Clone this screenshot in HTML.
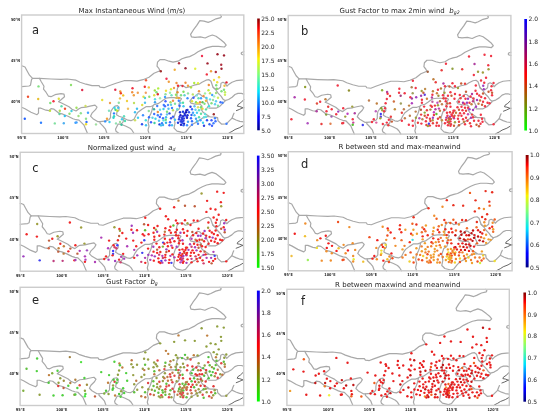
<!DOCTYPE html><html><head><meta charset="utf-8"><style>html,body{margin:0;padding:0;background:#fff;width:550px;height:420px;overflow:hidden}svg{display:block;filter:blur(0.55px)}text{font-family:"DejaVu Sans","Liberation Sans",sans-serif;fill:#262626}</style></head><body>
<svg width="550" height="420" viewBox="0 0 550 420">
<defs>
<linearGradient id="g_jet" x1="0" y1="1" x2="0" y2="0"><stop offset="0" stop-color="#000080"/><stop offset="0.11" stop-color="#0000ff"/><stop offset="0.125" stop-color="#0000ff"/><stop offset="0.34" stop-color="#00ddff"/><stop offset="0.35" stop-color="#00e5f7"/><stop offset="0.5" stop-color="#7dff7a"/><stop offset="0.64" stop-color="#f7f400"/><stop offset="0.66" stop-color="#ffdb00"/><stop offset="0.89" stop-color="#ff1e00"/><stop offset="0.91" stop-color="#ff0000"/><stop offset="1" stop-color="#800000"/></linearGradient>
<linearGradient id="g_grb" x1="0" y1="1" x2="0" y2="0"><stop offset="0" stop-color="#00ff00"/><stop offset="0.5" stop-color="#ff0000"/><stop offset="1" stop-color="#0000ff"/></linearGradient>
</defs>
<rect width="550" height="420" fill="#fff"/>
<g fill="none" stroke-linejoin="round" stroke-linecap="round">
<polyline points="21.6,65.8 22.5,66 25,67 27,70.7 29.5,75.2 32.5,78.4 39.5,78.4 51,79 61,79.4 67,79 76,80.2 80,82.2 86,84.2 92,85.7 99,85.7 100,87.2 104,87.7 109,85.7 116,83.2 124,80.7 131,80.7 137,81.2 143,79.7 149,77.2 154,73.2 160,70.7 159,68.7 157,66.2 157.5,62.2 160,59.7 165,59.7 169,61.2 173,62.2 178,61.2 182,58.7 186,57.4 189.6,56.6 194.4,54.2 198,51.8 202.8,49.4 207,47.6 212.4,46.4 218.4,46.4 224.4,47 226.2,45.2 224.4,42.8 220.8,39.8 216,36.2 212.4,35 208.8,36.2 205.2,38 200.4,36.8 195,37.4 191.4,36.8 190.6,34.4 193.2,30.2 196.8,25.4 199.8,20.6 204,21.2 208.2,22.4 211.2,21.2 216,18.8 220.8,17.6 221.4,16.4 220.2,15" stroke="#a8a8a8" stroke-width="1.2"/>
<polyline points="243.8,51.7 241.5,52.5 241.2,53.7 242,54.5 243.8,54.8" stroke="#a8a8a8" stroke-width="1.2"/>
<polyline points="32.5,78.4 31.5,79.7 30.5,85.2 29,86 21.6,86.7" stroke="#a8a8a8" stroke-width="1.2"/>
<polyline points="39.5,78.4 41,81.2 44,86.2 43.5,89.2 46,92.2 48.5,96.2 51,96.7 55,94.7 61,93.7 64,94.2 64.5,96.7 61,99.7 58.5,101.7 61,102.7 65,104.7 69,106.7 72,109.2 76,111 79,108.7 81,107.7 86,107.2 90,106.2 95,105.2 97,107.2 95.5,109.7 92,113.2 90.5,116.2 93,118.7 98,121.7 100,121.7 105,121.2 109,119.7 110.5,117.7 110.5,114.2 111,111.2 113,108.2 115,106.2 117.5,105.7 119,107.2 119,110.2 117,112.2 116.5,114.7 119,116.2 122,117.2 125,118.7 128,120.2 131,120.7 134,119.2 136,115.2 138,112.2 142,109.2 146,106.7 150,106.7 153,105.7 154,104.7 158,103.7 161,101.7 163,100.2 166,98.2 170,97.7 174,97.7 177,98.2 177,95.2 177,91.2 177.5,88.2 179,86.2 181,85.2 184,86.2 186,87.7 190,86.7 194,85.2 199,84.2 202,82.2 206,80.2 209,79.7 211,81.2 212,84.2 213,87.2 214.5,88.7 218,89.2 220.5,87.2 221,83.2 223,82.2 225,83.2 227,86.2 229,84.2 232,82.2 236,80.7 241,80.2 243.8,80" stroke="#a8a8a8" stroke-width="1.2"/>
<polyline points="177,98.2 180,97.7 181.5,98.7 180,101.2 179,104.2 180,106.2 179,109.2 176,111.2 175,114.2 174,117.2 175,123.2 174,128.2 177,131.2 183,132.7 186,131.7 189.3,127.4 192.5,124.2 197,121.9 200,119.7 203.5,117.6 207.8,116.5 211,117 214.4,117 217.6,117.6 218,120.7 221.7,124.2 226.4,123.8 229.3,120.9 232.1,118.1 236,120 239.8,121.4 243.8,121.9" stroke="#a8a8a8" stroke-width="1.2"/>
<polyline points="232.1,118.1 233.1,115.2 234,113.2" stroke="#a8a8a8" stroke-width="1.2"/>
<polyline points="190,101.2 192,98.2 195,96.2 198,93.7 200,94.2 202,96.2 205,97.2 207,99.2 207,101.2 209,105.2 207,108.2" stroke="#a8a8a8" stroke-width="1.2"/>
<polyline points="190,101.2 191,103.2 195,104.2 200,104.2 202,106.2 201,109.2 203,112.2 206,114.2 209,116.2" stroke="#a8a8a8" stroke-width="1.2"/>
<polyline points="213,87.2 216,90.2 218,93.2 221,96.2 223,99.2 225,100.6 228.6,99.5 232.1,97.3 235,94.5 237.9,93.4 241.4,93.4 243.8,94.1" stroke="#a8a8a8" stroke-width="1.2"/>
<polyline points="225,101.2 223,103.2 220,106.2 216,108.2 212,108.2 209,108.2" stroke="#a8a8a8" stroke-width="1.2"/>
<polyline points="21.6,107.2 25,108.7 31,112.2 37,114.7 38.5,113.2 38.5,108.2 41,108.2 46,110.2 49,110.7 51,108.7 54,109.2 59,113.2 63,114.2 68,116.2 73,118.7 76,119.7 79,120.2 82,123.2 84,125.2 87,132.2 87.5,133.5" stroke="#a8a8a8" stroke-width="1.2"/>
<polyline points="100,121.7 100,123.2 103,126.2 105.5,129.2 107,133.5" stroke="#a8a8a8" stroke-width="1.2"/>
<polyline points="124,118.2 123,122.2 121,124.2 118,124.2 117,126.2 115.5,129.2 116,131.2 119,133.5" stroke="#a8a8a8" stroke-width="1.2"/>
<polyline points="121,124.2 126,126.2 130,128.2 132,130.2 134,133.5" stroke="#a8a8a8" stroke-width="1.2"/>
<polyline points="153,105.7 152,110.2 151,113.2 149,117.2 148,122.2 149,126.2 148,130.2 149,133.5" stroke="#a8a8a8" stroke-width="1.2"/>
<polyline points="243.8,99.7 240.7,102.8 237.9,104.7 237.4,106.2 239.8,106.6 242.6,107.6 243.8,107.8" stroke="#555" stroke-width="0.9"/>
<polyline points="236.4,110.6 239.3,109.5 242.1,108.1 243.8,107.7" stroke="#555" stroke-width="0.9"/>
<polyline points="243.8,125.2 239.8,127.6 235,129.5 232.1,131.4 229.3,132.8 228.3,133.5" stroke="#555" stroke-width="0.9"/>
</g>
<g>
<circle cx="38.5" cy="86.4" r="1.2" fill="#80e080"/>
<circle cx="71" cy="85" r="1.2" fill="#90e070"/>
<circle cx="28" cy="96.7" r="1.2" fill="#f05030"/>
<circle cx="38.2" cy="99" r="1.2" fill="#e8c030"/>
<circle cx="58.8" cy="98.7" r="1.2" fill="#e0e040"/>
<circle cx="53.5" cy="101.2" r="1.2" fill="#f03040"/>
<circle cx="50.3" cy="103" r="1.2" fill="#80e080"/>
<circle cx="61.5" cy="106.2" r="1.2" fill="#60e0b0"/>
<circle cx="65" cy="108.7" r="1.2" fill="#f05030"/>
<circle cx="50" cy="110.7" r="1.2" fill="#c0e040"/>
<circle cx="59.8" cy="110.7" r="1.2" fill="#b0e050"/>
<circle cx="71.5" cy="111" r="1.2" fill="#40d0e0"/>
<circle cx="59.5" cy="114" r="1.2" fill="#60d0a0"/>
<circle cx="69.5" cy="113.7" r="1.2" fill="#90e070"/>
<circle cx="64.8" cy="116" r="1.2" fill="#30c0f0"/>
<circle cx="24.8" cy="118.7" r="1.2" fill="#2060ff"/>
<circle cx="41" cy="122.7" r="1.2" fill="#3080ff"/>
<circle cx="54.8" cy="123.4" r="1.2" fill="#80e0a0"/>
<circle cx="63.8" cy="123.2" r="1.2" fill="#50b0f0"/>
<circle cx="75.5" cy="122.7" r="1.2" fill="#40a0ff"/>
<circle cx="82.2" cy="90" r="1.2" fill="#e03050"/>
<circle cx="115.3" cy="89.7" r="1.2" fill="#e03050"/>
<circle cx="120.3" cy="91.4" r="1.2" fill="#f09030"/>
<circle cx="120.8" cy="93.2" r="1.2" fill="#f04020"/>
<circle cx="123.2" cy="95.4" r="1.2" fill="#f0c020"/>
<circle cx="102.2" cy="100" r="1.2" fill="#e8e040"/>
<circle cx="120" cy="98.4" r="1.2" fill="#f0c050"/>
<circle cx="127" cy="101" r="1.2" fill="#f0d040"/>
<circle cx="110" cy="103" r="1.2" fill="#f0a050"/>
<circle cx="118.8" cy="102.7" r="1.2" fill="#90e0a0"/>
<circle cx="85.5" cy="106" r="1.2" fill="#d0e060"/>
<circle cx="76.5" cy="107.7" r="1.2" fill="#a0e060"/>
<circle cx="128" cy="108.7" r="1.2" fill="#f0c060"/>
<circle cx="114.5" cy="107.7" r="1.2" fill="#40d0f0"/>
<circle cx="118.2" cy="107.7" r="1.2" fill="#40c0f0"/>
<circle cx="115.5" cy="109.7" r="1.2" fill="#40e080"/>
<circle cx="117.3" cy="110.7" r="1.2" fill="#c0e030"/>
<circle cx="109" cy="110.7" r="1.2" fill="#80e0c0"/>
<circle cx="88" cy="112.7" r="1.2" fill="#40a0ff"/>
<circle cx="80.8" cy="113.2" r="1.2" fill="#90e090"/>
<circle cx="114" cy="113.4" r="1.2" fill="#3080ff"/>
<circle cx="114" cy="116.2" r="1.2" fill="#30e0c0"/>
<circle cx="113.5" cy="117.7" r="1.2" fill="#30d0d0"/>
<circle cx="78.5" cy="116" r="1.2" fill="#a0e080"/>
<circle cx="124" cy="116.2" r="1.2" fill="#60e0c0"/>
<circle cx="86" cy="118.7" r="1.2" fill="#90e090"/>
<circle cx="122" cy="119.2" r="1.2" fill="#40d0f0"/>
<circle cx="107" cy="118.7" r="1.2" fill="#f0a040"/>
<circle cx="125" cy="121" r="1.2" fill="#50e0b0"/>
<circle cx="86.5" cy="122" r="1.2" fill="#3070ff"/>
<circle cx="76.5" cy="122.4" r="1.2" fill="#40a0ff"/>
<circle cx="105.2" cy="121.4" r="1.2" fill="#3090ff"/>
<circle cx="109.5" cy="122" r="1.2" fill="#40d0f0"/>
<circle cx="120" cy="122" r="1.2" fill="#a0e0a0"/>
<circle cx="86" cy="124.2" r="1.2" fill="#f0e030"/>
<circle cx="96" cy="124.4" r="1.2" fill="#a0e0a0"/>
<circle cx="116" cy="123.4" r="1.2" fill="#90e0b0"/>
<circle cx="121.5" cy="124.7" r="1.2" fill="#40c0a0"/>
<circle cx="146" cy="80.2" r="1.2" fill="#f06040"/>
<circle cx="160.8" cy="71.2" r="1.2" fill="#a03030"/>
<circle cx="179" cy="63.2" r="1.2" fill="#b03040"/>
<circle cx="185.5" cy="68.2" r="1.2" fill="#a03040"/>
<circle cx="174.7" cy="69.7" r="1.2" fill="#f0b040"/>
<circle cx="166.5" cy="78.7" r="1.2" fill="#f03050"/>
<circle cx="168.8" cy="81.7" r="1.2" fill="#f0a040"/>
<circle cx="176.5" cy="83" r="1.2" fill="#f09040"/>
<circle cx="178" cy="85.7" r="1.2" fill="#f03030"/>
<circle cx="182.5" cy="86" r="1.2" fill="#e03040"/>
<circle cx="185.5" cy="82.7" r="1.2" fill="#f09040"/>
<circle cx="144.8" cy="86.7" r="1.2" fill="#f03030"/>
<circle cx="148.8" cy="87.4" r="1.2" fill="#f0c040"/>
<circle cx="132.5" cy="88.2" r="1.2" fill="#f03040"/>
<circle cx="158.2" cy="88.4" r="1.2" fill="#b0f040"/>
<circle cx="154.8" cy="90.4" r="1.2" fill="#a0e040"/>
<circle cx="166" cy="90.7" r="1.2" fill="#f0e040"/>
<circle cx="171" cy="89.2" r="1.2" fill="#e0f040"/>
<circle cx="174" cy="88" r="1.2" fill="#f0a050"/>
<circle cx="132.2" cy="92.2" r="1.2" fill="#f09040"/>
<circle cx="137.8" cy="92.7" r="1.2" fill="#f0a050"/>
<circle cx="145.8" cy="92.7" r="1.2" fill="#f0a060"/>
<circle cx="133.8" cy="95.2" r="1.2" fill="#f0a040"/>
<circle cx="156.5" cy="92.2" r="1.2" fill="#80e080"/>
<circle cx="157.8" cy="94.2" r="1.2" fill="#e03030"/>
<circle cx="154.2" cy="95.2" r="1.2" fill="#e0e040"/>
<circle cx="170" cy="92.7" r="1.2" fill="#a0f0a0"/>
<circle cx="177.5" cy="92.2" r="1.2" fill="#e09030"/>
<circle cx="183.5" cy="91.7" r="1.2" fill="#80e060"/>
<circle cx="165.5" cy="94.2" r="1.2" fill="#90e0a0"/>
<circle cx="171.5" cy="95.2" r="1.2" fill="#70e0c0"/>
<circle cx="176" cy="94.7" r="1.2" fill="#90e060"/>
<circle cx="181" cy="95.2" r="1.2" fill="#80e080"/>
<circle cx="184.5" cy="95.2" r="1.2" fill="#60d0d0"/>
<circle cx="143.5" cy="96.7" r="1.2" fill="#e0e040"/>
<circle cx="145" cy="98" r="1.2" fill="#50d0d0"/>
<circle cx="149.3" cy="96.7" r="1.2" fill="#90e070"/>
<circle cx="155" cy="99.2" r="1.2" fill="#60e0e0"/>
<circle cx="160" cy="98.2" r="1.2" fill="#a0f0b0"/>
<circle cx="165" cy="97" r="1.2" fill="#40a0ff"/>
<circle cx="176.5" cy="97.7" r="1.2" fill="#e0c040"/>
<circle cx="178.8" cy="98" r="1.2" fill="#f0a040"/>
<circle cx="173" cy="100.7" r="1.2" fill="#f09050"/>
<circle cx="178.8" cy="100.7" r="1.2" fill="#4080ff"/>
<circle cx="134" cy="103" r="1.2" fill="#c0e060"/>
<circle cx="145" cy="102.7" r="1.2" fill="#50c0f0"/>
<circle cx="155" cy="102.2" r="1.2" fill="#40a0f0"/>
<circle cx="165.5" cy="101.2" r="1.2" fill="#4060ff"/>
<circle cx="170.5" cy="102.2" r="1.2" fill="#a0e060"/>
<circle cx="175" cy="103.7" r="1.2" fill="#80e0a0"/>
<circle cx="180.5" cy="103" r="1.2" fill="#60d0f0"/>
<circle cx="183" cy="102.7" r="1.2" fill="#50e0a0"/>
<circle cx="142.2" cy="105" r="1.2" fill="#e0e040"/>
<circle cx="157.2" cy="106" r="1.2" fill="#4080ff"/>
<circle cx="163.8" cy="105" r="1.2" fill="#4080ff"/>
<circle cx="165" cy="106.2" r="1.2" fill="#4070ff"/>
<circle cx="168" cy="105" r="1.2" fill="#5090ff"/>
<circle cx="171" cy="104.7" r="1.2" fill="#60d0e0"/>
<circle cx="179.5" cy="105.7" r="1.2" fill="#3060ff"/>
<circle cx="183.5" cy="106.2" r="1.2" fill="#40c0f0"/>
<circle cx="137" cy="108.7" r="1.2" fill="#40c0f0"/>
<circle cx="154" cy="109.2" r="1.2" fill="#40b0a0"/>
<circle cx="160" cy="109.7" r="1.2" fill="#60e0f0"/>
<circle cx="163.5" cy="109" r="1.2" fill="#40d0e0"/>
<circle cx="168.5" cy="108.7" r="1.2" fill="#50c0f0"/>
<circle cx="172" cy="108" r="1.2" fill="#4080ff"/>
<circle cx="173" cy="110.2" r="1.2" fill="#c0e060"/>
<circle cx="177.2" cy="109.2" r="1.2" fill="#60e0e0"/>
<circle cx="135" cy="112.2" r="1.2" fill="#40c0f0"/>
<circle cx="148.8" cy="111" r="1.2" fill="#90e0a0"/>
<circle cx="157.8" cy="112" r="1.2" fill="#f09040"/>
<circle cx="154.2" cy="114" r="1.2" fill="#4070ff"/>
<circle cx="161" cy="114.4" r="1.2" fill="#4080ff"/>
<circle cx="167" cy="111.7" r="1.2" fill="#80e080"/>
<circle cx="169.5" cy="113.4" r="1.2" fill="#3050e0"/>
<circle cx="167" cy="114.4" r="1.2" fill="#60c0f0"/>
<circle cx="143" cy="115.2" r="1.2" fill="#4090ff"/>
<circle cx="157.8" cy="115.2" r="1.2" fill="#4080ff"/>
<circle cx="180" cy="112.2" r="1.2" fill="#2030d0"/>
<circle cx="183" cy="111.7" r="1.2" fill="#2040e0"/>
<circle cx="138" cy="117.7" r="1.2" fill="#40d0f0"/>
<circle cx="149" cy="117.2" r="1.2" fill="#3070ff"/>
<circle cx="152.5" cy="117.7" r="1.2" fill="#60d0e0"/>
<circle cx="155.5" cy="118.7" r="1.2" fill="#40d0f0"/>
<circle cx="159.8" cy="117" r="1.2" fill="#4060ff"/>
<circle cx="163" cy="118.2" r="1.2" fill="#4070ff"/>
<circle cx="166" cy="117.2" r="1.2" fill="#40c0f0"/>
<circle cx="171" cy="118.2" r="1.2" fill="#4050f0"/>
<circle cx="173" cy="116.7" r="1.2" fill="#4060f0"/>
<circle cx="180.5" cy="115.2" r="1.2" fill="#2020c0"/>
<circle cx="183" cy="116.2" r="1.2" fill="#2030d0"/>
<circle cx="185" cy="115.2" r="1.2" fill="#2030e0"/>
<circle cx="182.5" cy="118.7" r="1.2" fill="#2020c0"/>
<circle cx="179" cy="119.2" r="1.2" fill="#3040e0"/>
<circle cx="135" cy="120.2" r="1.2" fill="#d0e060"/>
<circle cx="145.8" cy="120.2" r="1.2" fill="#40e0e0"/>
<circle cx="159" cy="120.7" r="1.2" fill="#50c0f0"/>
<circle cx="163.5" cy="120.4" r="1.2" fill="#60e0e0"/>
<circle cx="165.8" cy="119.7" r="1.2" fill="#60e080"/>
<circle cx="175" cy="119.7" r="1.2" fill="#40c0f0"/>
<circle cx="151" cy="122.2" r="1.2" fill="#4060ff"/>
<circle cx="154.5" cy="123" r="1.2" fill="#40d0a0"/>
<circle cx="162" cy="123.2" r="1.2" fill="#3080ff"/>
<circle cx="166" cy="122.7" r="1.2" fill="#30b0e0"/>
<circle cx="170" cy="122.2" r="1.2" fill="#4070ff"/>
<circle cx="178" cy="122.7" r="1.2" fill="#2040e0"/>
<circle cx="182" cy="121.7" r="1.2" fill="#2020c0"/>
<circle cx="142" cy="124.2" r="1.2" fill="#3050f0"/>
<circle cx="146" cy="125.2" r="1.2" fill="#40c0f0"/>
<circle cx="159.5" cy="124.4" r="1.2" fill="#2040e0"/>
<circle cx="163" cy="125" r="1.2" fill="#40b0f0"/>
<circle cx="181" cy="124.7" r="1.2" fill="#2020c0"/>
<circle cx="184" cy="123.7" r="1.2" fill="#2020c0"/>
<circle cx="169.5" cy="125.2" r="1.2" fill="#4060ff"/>
<circle cx="172" cy="125.2" r="1.2" fill="#40c0f0"/>
<circle cx="183.5" cy="125.2" r="1.2" fill="#3060f0"/>
<circle cx="161" cy="125.4" r="1.2" fill="#40c0f0"/>
<circle cx="202" cy="56" r="1.2" fill="#f03050"/>
<circle cx="217.5" cy="54.2" r="1.2" fill="#a02030"/>
<circle cx="224" cy="55.4" r="1.2" fill="#a02030"/>
<circle cx="207.5" cy="63.4" r="1.2" fill="#a02030"/>
<circle cx="221.2" cy="64.7" r="1.2" fill="#b03040"/>
<circle cx="221.5" cy="68.7" r="1.2" fill="#a02030"/>
<circle cx="195.2" cy="68.7" r="1.2" fill="#e0f040"/>
<circle cx="211" cy="71.2" r="1.2" fill="#f0a040"/>
<circle cx="215.8" cy="72" r="1.2" fill="#b03040"/>
<circle cx="206.8" cy="74.4" r="1.2" fill="#f03040"/>
<circle cx="219" cy="77.2" r="1.2" fill="#f0d040"/>
<circle cx="214" cy="80" r="1.2" fill="#f0e040"/>
<circle cx="217.2" cy="82.2" r="1.2" fill="#f0e040"/>
<circle cx="226.5" cy="82.4" r="1.2" fill="#e02030"/>
<circle cx="224.5" cy="85.7" r="1.2" fill="#f0c040"/>
<circle cx="194.2" cy="83" r="1.2" fill="#b0f040"/>
<circle cx="198" cy="83.2" r="1.2" fill="#e0f040"/>
<circle cx="188" cy="85.7" r="1.2" fill="#f0a040"/>
<circle cx="191" cy="87.4" r="1.2" fill="#b0e040"/>
<circle cx="208.8" cy="85" r="1.2" fill="#f09040"/>
<circle cx="216.2" cy="85.2" r="1.2" fill="#80e080"/>
<circle cx="216.8" cy="88.7" r="1.2" fill="#80e060"/>
<circle cx="208.5" cy="90.2" r="1.2" fill="#c0f040"/>
<circle cx="199" cy="91.2" r="1.2" fill="#f09040"/>
<circle cx="224" cy="89.7" r="1.2" fill="#80e080"/>
<circle cx="221.5" cy="91.2" r="1.2" fill="#80e080"/>
<circle cx="205" cy="93.4" r="1.2" fill="#a0f0a0"/>
<circle cx="210" cy="93.2" r="1.2" fill="#c0e060"/>
<circle cx="216" cy="93" r="1.2" fill="#a0e080"/>
<circle cx="225" cy="92.2" r="1.2" fill="#c0f060"/>
<circle cx="225" cy="94.7" r="1.2" fill="#d0f060"/>
<circle cx="188" cy="93.4" r="1.2" fill="#90e0a0"/>
<circle cx="192.8" cy="94.4" r="1.2" fill="#c0e060"/>
<circle cx="196.8" cy="95.4" r="1.2" fill="#80e0e0"/>
<circle cx="203.5" cy="96" r="1.2" fill="#f09040"/>
<circle cx="212.2" cy="95" r="1.2" fill="#40a0ff"/>
<circle cx="214.2" cy="96.4" r="1.2" fill="#a0f0c0"/>
<circle cx="218" cy="97.7" r="1.2" fill="#d0f060"/>
<circle cx="187.5" cy="98.2" r="1.2" fill="#4090ff"/>
<circle cx="193.5" cy="97.7" r="1.2" fill="#4060ff"/>
<circle cx="198.5" cy="98.2" r="1.2" fill="#60e0b0"/>
<circle cx="201" cy="98.2" r="1.2" fill="#40a0ff"/>
<circle cx="206.5" cy="98" r="1.2" fill="#40d0f0"/>
<circle cx="210" cy="99.4" r="1.2" fill="#60e0f0"/>
<circle cx="213" cy="100" r="1.2" fill="#a0e0a0"/>
<circle cx="216" cy="101.2" r="1.2" fill="#60d0f0"/>
<circle cx="220.5" cy="102.2" r="1.2" fill="#4070ff"/>
<circle cx="222.5" cy="102.7" r="1.2" fill="#4080ff"/>
<circle cx="192" cy="101.2" r="1.2" fill="#e0e040"/>
<circle cx="196" cy="102.2" r="1.2" fill="#80e060"/>
<circle cx="197.5" cy="103.2" r="1.2" fill="#f0e040"/>
<circle cx="200" cy="102.2" r="1.2" fill="#f09040"/>
<circle cx="202.5" cy="102.2" r="1.2" fill="#60c060"/>
<circle cx="206" cy="100.7" r="1.2" fill="#f0b040"/>
<circle cx="204.5" cy="103.7" r="1.2" fill="#80e080"/>
<circle cx="211.5" cy="103.2" r="1.2" fill="#80e080"/>
<circle cx="215" cy="104.2" r="1.2" fill="#60d0f0"/>
<circle cx="218" cy="105.7" r="1.2" fill="#80e0a0"/>
<circle cx="209" cy="106.2" r="1.2" fill="#40e0e0"/>
<circle cx="190.5" cy="106.7" r="1.2" fill="#3040e0"/>
<circle cx="194.5" cy="106.2" r="1.2" fill="#60c0f0"/>
<circle cx="198" cy="107.2" r="1.2" fill="#e0e060"/>
<circle cx="201" cy="107.2" r="1.2" fill="#70e070"/>
<circle cx="202.5" cy="108.7" r="1.2" fill="#f0d040"/>
<circle cx="206" cy="109.4" r="1.2" fill="#60e0a0"/>
<circle cx="187.5" cy="110" r="1.2" fill="#2040e0"/>
<circle cx="192" cy="109.2" r="1.2" fill="#4060ff"/>
<circle cx="195.5" cy="109.7" r="1.2" fill="#60d0f0"/>
<circle cx="199" cy="110.2" r="1.2" fill="#60e0c0"/>
<circle cx="186" cy="112.2" r="1.2" fill="#1010b0"/>
<circle cx="189" cy="112.2" r="1.2" fill="#3050f0"/>
<circle cx="193" cy="112.7" r="1.2" fill="#40a0ff"/>
<circle cx="197" cy="112.7" r="1.2" fill="#40d0f0"/>
<circle cx="201" cy="113.7" r="1.2" fill="#60e0a0"/>
<circle cx="205" cy="114" r="1.2" fill="#60e0e0"/>
<circle cx="213.8" cy="114.2" r="1.2" fill="#a03030"/>
<circle cx="187.5" cy="115.2" r="1.2" fill="#2030d0"/>
<circle cx="191.5" cy="115" r="1.2" fill="#3060f0"/>
<circle cx="194.5" cy="115.2" r="1.2" fill="#40c0f0"/>
<circle cx="199" cy="117.2" r="1.2" fill="#50e0b0"/>
<circle cx="204" cy="117.2" r="1.2" fill="#60e0e0"/>
<circle cx="206" cy="116.7" r="1.2" fill="#60e0e0"/>
<circle cx="187" cy="117.7" r="1.2" fill="#2020c0"/>
<circle cx="191" cy="118.2" r="1.2" fill="#3060ff"/>
<circle cx="196" cy="118.7" r="1.2" fill="#40a0f0"/>
<circle cx="215" cy="118.2" r="1.2" fill="#4080ff"/>
<circle cx="207" cy="120.2" r="1.2" fill="#3050f0"/>
<circle cx="211.5" cy="120.2" r="1.2" fill="#4060ff"/>
<circle cx="215.5" cy="121.2" r="1.2" fill="#4070ff"/>
<circle cx="188" cy="121.7" r="1.2" fill="#40a0f0"/>
<circle cx="192" cy="121.2" r="1.2" fill="#3070ff"/>
<circle cx="197" cy="121.2" r="1.2" fill="#40c0f0"/>
<circle cx="200.5" cy="120.2" r="1.2" fill="#40a0ff"/>
<circle cx="203" cy="122.7" r="1.2" fill="#40d0f0"/>
<circle cx="198" cy="123.7" r="1.2" fill="#4080ff"/>
<circle cx="209.5" cy="124.2" r="1.2" fill="#3060f0"/>
<circle cx="213.5" cy="123.2" r="1.2" fill="#4080ff"/>
<circle cx="226.5" cy="123.7" r="1.2" fill="#4080ff"/>
<circle cx="187" cy="125.2" r="1.2" fill="#4090ff"/>
<circle cx="192" cy="124.7" r="1.2" fill="#4080ff"/>
<circle cx="204" cy="125.7" r="1.2" fill="#3040e0"/>
<circle cx="212" cy="125.7" r="1.2" fill="#4060ff"/>
<circle cx="181.7" cy="117.7" r="1.2" fill="#3040e0"/>
<circle cx="183.9" cy="118.4" r="1.2" fill="#3040e0"/>
<circle cx="181.4" cy="120" r="1.2" fill="#3040e0"/>
<circle cx="183.5" cy="120.8" r="1.2" fill="#3040e0"/>
<circle cx="180.6" cy="121.5" r="1.2" fill="#3040e0"/>
<circle cx="182.3" cy="122.8" r="1.2" fill="#3050f0"/>
<circle cx="186.8" cy="116.6" r="1.2" fill="#3040e0"/>
<circle cx="184.6" cy="113.8" r="1.2" fill="#2030d0"/>
<circle cx="186.5" cy="110.2" r="1.2" fill="#2020c0"/>
<circle cx="179.5" cy="117" r="1.2" fill="#3040e0"/>
</g>
<rect x="21.6" y="15" width="222.2" height="118.5" fill="none" stroke="#cccccc" stroke-width="1.4"/>
<rect x="257.2" y="18.5" width="2.6" height="111.8" fill="url(#g_jet)"/>
<text x="261.3" y="132.6" font-size="6">5.0</text>
<text x="261.3" y="118.63" font-size="6">7.5</text>
<text x="261.3" y="104.65" font-size="6">10.0</text>
<text x="261.3" y="90.67" font-size="6">12.5</text>
<text x="261.3" y="76.7" font-size="6">15.0</text>
<text x="261.3" y="62.73" font-size="6">17.5</text>
<text x="261.3" y="48.75" font-size="6">20.0</text>
<text x="261.3" y="34.77" font-size="6">22.5</text>
<text x="261.3" y="20.8" font-size="6">25.0</text>
<text x="21.8" y="138.8" font-size="4.1" fill="#111" font-weight="bold" text-anchor="middle" textLength="9.0" lengthAdjust="spacingAndGlyphs">95°E</text>
<text x="62.95" y="138.8" font-size="4.1" fill="#111" font-weight="bold" text-anchor="middle" textLength="11.2" lengthAdjust="spacingAndGlyphs">100°E</text>
<text x="104.1" y="138.8" font-size="4.1" fill="#111" font-weight="bold" text-anchor="middle" textLength="11.2" lengthAdjust="spacingAndGlyphs">105°E</text>
<text x="145.24" y="138.8" font-size="4.1" fill="#111" font-weight="bold" text-anchor="middle" textLength="11.2" lengthAdjust="spacingAndGlyphs">110°E</text>
<text x="186.39" y="138.8" font-size="4.1" fill="#111" font-weight="bold" text-anchor="middle" textLength="11.2" lengthAdjust="spacingAndGlyphs">115°E</text>
<text x="227.54" y="138.8" font-size="4.1" fill="#111" font-weight="bold" text-anchor="middle" textLength="11.2" lengthAdjust="spacingAndGlyphs">120°E</text>
<text x="20" y="20.74" font-size="4.2" fill="#111" font-weight="bold" text-anchor="end" textLength="9.0" lengthAdjust="spacingAndGlyphs">50°N</text>
<text x="20" y="61.83" font-size="4.2" fill="#111" font-weight="bold" text-anchor="end" textLength="9.0" lengthAdjust="spacingAndGlyphs">45°N</text>
<text x="20" y="102.92" font-size="4.2" fill="#111" font-weight="bold" text-anchor="end" textLength="9.0" lengthAdjust="spacingAndGlyphs">40°N</text>
<text x="131.9" y="12.9" font-size="7" text-anchor="middle">Max Instantaneous Wind (m/s)</text>
<text x="32" y="34.2" font-size="11.5">a</text>
<g fill="none" stroke-linejoin="round" stroke-linecap="round">
<polyline points="288.2,66.34 289.1,66.54 291.61,67.54 293.61,71.25 296.12,75.75 299.12,78.95 306.14,78.95 317.67,79.55 327.69,79.95 333.7,79.55 342.72,80.76 346.73,82.76 352.74,84.76 358.76,86.26 365.77,86.26 366.78,87.76 370.79,88.26 375.8,86.26 382.81,83.76 390.83,81.26 397.85,81.26 403.86,81.76 409.87,80.25 415.89,77.75 420.9,73.75 426.91,71.25 425.91,69.25 423.9,66.74 424.41,62.74 426.91,60.24 431.92,60.24 435.93,61.74 439.94,62.74 444.95,61.74 448.96,59.24 452.97,57.94 456.58,57.14 461.39,54.73 465,52.33 469.81,49.93 474.02,48.13 479.43,46.93 485.44,46.93 491.46,47.53 493.26,45.73 491.46,43.32 487.85,40.32 483.04,36.72 479.43,35.52 475.82,36.72 472.21,38.52 467.4,37.32 461.99,37.92 458.38,37.32 457.58,34.92 460.19,30.71 463.79,25.91 466.8,21.1 471.01,21.71 475.22,22.91 478.23,21.71 483.04,19.3 487.85,18.1 488.45,16.9 487.25,15.5" stroke="#a8a8a8" stroke-width="1.2"/>
<polyline points="510.9,52.23 508.59,53.03 508.29,54.23 509.1,55.03 510.9,55.33" stroke="#a8a8a8" stroke-width="1.2"/>
<polyline points="299.12,78.95 298.12,80.25 297.12,85.76 295.62,86.56 288.2,87.26" stroke="#a8a8a8" stroke-width="1.2"/>
<polyline points="306.14,78.95 307.64,81.76 310.65,86.76 310.15,89.76 312.65,92.77 315.16,96.77 317.67,97.27 321.68,95.27 327.69,94.27 330.7,94.77 331.2,97.27 327.69,100.27 325.18,102.27 327.69,103.27 331.7,105.28 335.71,107.28 338.71,109.78 342.72,111.58 345.73,109.28 347.73,108.28 352.74,107.78 356.75,106.78 361.77,105.78 363.77,107.78 362.27,110.28 358.76,113.78 357.26,116.79 359.76,119.29 364.77,122.29 366.78,122.29 371.79,121.79 375.8,120.29 377.3,118.29 377.3,114.78 377.8,111.78 379.81,108.78 381.81,106.78 384.32,106.28 385.82,107.78 385.82,110.78 383.81,112.78 383.31,115.28 385.82,116.79 388.83,117.79 391.83,119.29 394.84,120.79 397.85,121.29 400.85,119.79 402.86,115.78 404.86,112.78 408.87,109.78 412.88,107.28 416.89,107.28 419.9,106.28 420.9,105.28 424.91,104.27 427.91,102.27 429.92,100.77 432.92,98.77 436.93,98.27 440.94,98.27 443.95,98.77 443.95,95.77 443.95,91.76 444.45,88.76 445.95,86.76 447.96,85.76 450.97,86.76 452.97,88.26 456.98,87.26 460.99,85.76 466,84.76 469.01,82.76 473.01,80.76 476.02,80.25 478.03,81.76 479.03,84.76 480.03,87.76 481.53,89.26 485.04,89.76 487.55,87.76 488.05,83.76 490.05,82.76 492.06,83.76 494.06,86.76 496.07,84.76 499.07,82.76 503.08,81.26 508.09,80.76 510.9,80.55" stroke="#a8a8a8" stroke-width="1.2"/>
<polyline points="443.95,98.77 446.96,98.27 448.46,99.27 446.96,101.77 445.95,104.78 446.96,106.78 445.95,109.78 442.95,111.78 441.95,114.78 440.94,117.79 441.95,123.79 440.94,128.8 443.95,131.8 449.96,133.3 452.97,132.3 456.28,127.99 459.48,124.79 463.99,122.49 467,120.29 470.51,118.19 474.82,117.09 478.03,117.59 481.43,117.59 484.64,118.19 485.04,121.29 488.75,124.79 493.46,124.39 496.37,121.49 499.17,118.69 503.08,120.59 506.89,121.99 510.9,122.49" stroke="#a8a8a8" stroke-width="1.2"/>
<polyline points="499.17,118.69 500.18,115.78 501.08,113.78" stroke="#a8a8a8" stroke-width="1.2"/>
<polyline points="456.98,101.77 458.98,98.77 461.99,96.77 465,94.27 467,94.77 469.01,96.77 472.01,97.77 474.02,99.77 474.02,101.77 476.02,105.78 474.02,108.78" stroke="#a8a8a8" stroke-width="1.2"/>
<polyline points="456.98,101.77 457.98,103.77 461.99,104.78 467,104.78 469.01,106.78 468,109.78 470.01,112.78 473.01,114.78 476.02,116.79" stroke="#a8a8a8" stroke-width="1.2"/>
<polyline points="480.03,87.76 483.04,90.76 485.04,93.77 488.05,96.77 490.05,99.77 492.06,101.17 495.67,100.07 499.17,97.87 502.08,95.07 504.99,93.97 508.49,93.97 510.9,94.67" stroke="#a8a8a8" stroke-width="1.2"/>
<polyline points="492.06,101.77 490.05,103.77 487.05,106.78 483.04,108.78 479.03,108.78 476.02,108.78" stroke="#a8a8a8" stroke-width="1.2"/>
<polyline points="288.2,107.78 291.61,109.28 297.62,112.78 303.63,115.28 305.14,113.78 305.14,108.78 307.64,108.78 312.65,110.78 315.66,111.28 317.67,109.28 320.67,109.78 325.68,113.78 329.69,114.78 334.7,116.79 339.72,119.29 342.72,120.29 345.73,120.79 348.74,123.79 350.74,125.79 353.75,132.8 354.25,134.1" stroke="#a8a8a8" stroke-width="1.2"/>
<polyline points="366.78,122.29 366.78,123.79 369.78,126.79 372.29,129.8 373.79,134.1" stroke="#a8a8a8" stroke-width="1.2"/>
<polyline points="390.83,118.79 389.83,122.79 387.82,124.79 384.82,124.79 383.81,126.79 382.31,129.8 382.81,131.8 385.82,134.1" stroke="#a8a8a8" stroke-width="1.2"/>
<polyline points="387.82,124.79 392.83,126.79 396.84,128.8 398.85,130.8 400.85,134.1" stroke="#a8a8a8" stroke-width="1.2"/>
<polyline points="419.9,106.28 418.89,110.78 417.89,113.78 415.89,117.79 414.88,122.79 415.89,126.79 414.88,130.8 415.89,134.1" stroke="#a8a8a8" stroke-width="1.2"/>
<polyline points="510.9,100.27 507.79,103.37 504.99,105.28 504.49,106.78 506.89,107.18 509.7,108.18 510.9,108.38" stroke="#555" stroke-width="0.9"/>
<polyline points="503.48,111.18 506.39,110.08 509.2,108.68 510.9,108.28" stroke="#555" stroke-width="0.9"/>
<polyline points="510.9,125.79 506.89,128.2 502.08,130.1 499.17,132 496.37,133.4 495.37,134.1" stroke="#555" stroke-width="0.9"/>
</g>
<g>
<circle cx="305.14" cy="86.96" r="1.2" fill="#90a030"/>
<circle cx="337.71" cy="85.56" r="1.2" fill="#f03848"/>
<circle cx="294.61" cy="97.27" r="1.2" fill="#b040b0"/>
<circle cx="304.84" cy="99.57" r="1.2" fill="#f03848"/>
<circle cx="325.48" cy="99.27" r="1.2" fill="#c08040"/>
<circle cx="320.17" cy="101.77" r="1.2" fill="#f03848"/>
<circle cx="316.96" cy="103.57" r="1.2" fill="#e05040"/>
<circle cx="328.19" cy="106.78" r="1.2" fill="#e84040"/>
<circle cx="331.7" cy="109.28" r="1.2" fill="#f03848"/>
<circle cx="316.66" cy="111.28" r="1.2" fill="#b040a0"/>
<circle cx="326.49" cy="111.28" r="1.2" fill="#f03848"/>
<circle cx="338.21" cy="111.58" r="1.2" fill="#a040c0"/>
<circle cx="326.19" cy="114.58" r="1.2" fill="#80a040"/>
<circle cx="336.21" cy="114.28" r="1.2" fill="#f03848"/>
<circle cx="331.5" cy="116.59" r="1.2" fill="#a060b0"/>
<circle cx="291.41" cy="119.29" r="1.2" fill="#f03848"/>
<circle cx="307.64" cy="123.29" r="1.2" fill="#b050c0"/>
<circle cx="321.47" cy="123.99" r="1.2" fill="#e84040"/>
<circle cx="330.49" cy="123.79" r="1.2" fill="#e08050"/>
<circle cx="342.22" cy="123.29" r="1.2" fill="#e84040"/>
<circle cx="348.94" cy="90.56" r="1.2" fill="#909030"/>
<circle cx="382.11" cy="90.26" r="1.2" fill="#90b040"/>
<circle cx="387.12" cy="91.96" r="1.2" fill="#b040a0"/>
<circle cx="387.62" cy="93.77" r="1.2" fill="#f03848"/>
<circle cx="390.03" cy="95.97" r="1.2" fill="#e84040"/>
<circle cx="368.98" cy="100.57" r="1.2" fill="#c08050"/>
<circle cx="386.82" cy="98.97" r="1.2" fill="#f03848"/>
<circle cx="393.84" cy="101.57" r="1.2" fill="#d07040"/>
<circle cx="376.8" cy="103.57" r="1.2" fill="#c08040"/>
<circle cx="385.62" cy="103.27" r="1.2" fill="#f03848"/>
<circle cx="352.24" cy="106.58" r="1.2" fill="#a0a040"/>
<circle cx="343.22" cy="108.28" r="1.2" fill="#f03848"/>
<circle cx="394.84" cy="109.28" r="1.2" fill="#c09040"/>
<circle cx="381.31" cy="108.28" r="1.2" fill="#80a030"/>
<circle cx="385.02" cy="108.28" r="1.2" fill="#f03848"/>
<circle cx="382.31" cy="110.28" r="1.2" fill="#a0a040"/>
<circle cx="384.12" cy="111.28" r="1.2" fill="#f03848"/>
<circle cx="375.8" cy="111.28" r="1.2" fill="#c060c0"/>
<circle cx="354.75" cy="113.28" r="1.2" fill="#b040a0"/>
<circle cx="347.53" cy="113.78" r="1.2" fill="#c040c0"/>
<circle cx="380.81" cy="113.98" r="1.2" fill="#4040f0"/>
<circle cx="380.81" cy="116.79" r="1.2" fill="#6040e0"/>
<circle cx="380.31" cy="118.29" r="1.2" fill="#a0a040"/>
<circle cx="345.23" cy="116.59" r="1.2" fill="#a0a040"/>
<circle cx="390.83" cy="116.79" r="1.2" fill="#e84040"/>
<circle cx="352.74" cy="119.29" r="1.2" fill="#f03848"/>
<circle cx="388.83" cy="119.79" r="1.2" fill="#f03848"/>
<circle cx="373.79" cy="119.29" r="1.2" fill="#f03848"/>
<circle cx="391.83" cy="121.59" r="1.2" fill="#c8603a"/>
<circle cx="353.25" cy="122.59" r="1.2" fill="#d040a0"/>
<circle cx="343.22" cy="122.99" r="1.2" fill="#f03848"/>
<circle cx="371.99" cy="121.99" r="1.2" fill="#f03848"/>
<circle cx="376.3" cy="122.59" r="1.2" fill="#e060a0"/>
<circle cx="386.82" cy="122.59" r="1.2" fill="#f03848"/>
<circle cx="352.74" cy="124.79" r="1.2" fill="#50c030"/>
<circle cx="362.77" cy="124.99" r="1.2" fill="#4040f0"/>
<circle cx="382.81" cy="123.99" r="1.2" fill="#f03848"/>
<circle cx="388.32" cy="125.29" r="1.2" fill="#e84040"/>
<circle cx="412.88" cy="80.76" r="1.2" fill="#f03848"/>
<circle cx="427.71" cy="71.75" r="1.2" fill="#a06040"/>
<circle cx="445.95" cy="63.74" r="1.2" fill="#f03848"/>
<circle cx="452.47" cy="68.74" r="1.2" fill="#90a040"/>
<circle cx="441.64" cy="70.25" r="1.2" fill="#e84040"/>
<circle cx="433.43" cy="79.25" r="1.2" fill="#c08040"/>
<circle cx="435.73" cy="82.26" r="1.2" fill="#e84040"/>
<circle cx="443.45" cy="83.56" r="1.2" fill="#b040a0"/>
<circle cx="444.95" cy="86.26" r="1.2" fill="#f03848"/>
<circle cx="449.46" cy="86.56" r="1.2" fill="#c8603a"/>
<circle cx="452.47" cy="83.26" r="1.2" fill="#f03848"/>
<circle cx="411.68" cy="87.26" r="1.2" fill="#b08050"/>
<circle cx="415.69" cy="87.96" r="1.2" fill="#f03848"/>
<circle cx="399.35" cy="88.76" r="1.2" fill="#f03848"/>
<circle cx="425.11" cy="88.96" r="1.2" fill="#c09050"/>
<circle cx="421.7" cy="90.96" r="1.2" fill="#a0a040"/>
<circle cx="432.92" cy="91.26" r="1.2" fill="#c08040"/>
<circle cx="437.94" cy="89.76" r="1.2" fill="#f03848"/>
<circle cx="440.94" cy="88.56" r="1.2" fill="#b08040"/>
<circle cx="399.05" cy="92.77" r="1.2" fill="#f03848"/>
<circle cx="404.66" cy="93.27" r="1.2" fill="#f03848"/>
<circle cx="412.68" cy="93.27" r="1.2" fill="#a0a060"/>
<circle cx="400.65" cy="95.77" r="1.2" fill="#a04080"/>
<circle cx="423.4" cy="92.77" r="1.2" fill="#c8603a"/>
<circle cx="424.71" cy="94.77" r="1.2" fill="#6040e0"/>
<circle cx="421.1" cy="95.77" r="1.2" fill="#a040b0"/>
<circle cx="436.93" cy="93.27" r="1.2" fill="#d08040"/>
<circle cx="444.45" cy="92.77" r="1.2" fill="#a0a040"/>
<circle cx="450.46" cy="92.26" r="1.2" fill="#f03848"/>
<circle cx="432.42" cy="94.77" r="1.2" fill="#f03848"/>
<circle cx="438.44" cy="95.77" r="1.2" fill="#a09040"/>
<circle cx="442.95" cy="95.27" r="1.2" fill="#f03848"/>
<circle cx="447.96" cy="95.77" r="1.2" fill="#f03848"/>
<circle cx="451.47" cy="95.77" r="1.2" fill="#c8603a"/>
<circle cx="410.37" cy="97.27" r="1.2" fill="#f03848"/>
<circle cx="411.88" cy="98.57" r="1.2" fill="#a040a0"/>
<circle cx="416.19" cy="97.27" r="1.2" fill="#a040c0"/>
<circle cx="421.9" cy="99.77" r="1.2" fill="#f03848"/>
<circle cx="426.91" cy="98.77" r="1.2" fill="#d08040"/>
<circle cx="431.92" cy="97.57" r="1.2" fill="#b040a0"/>
<circle cx="443.45" cy="98.27" r="1.2" fill="#e84040"/>
<circle cx="445.75" cy="98.57" r="1.2" fill="#f03848"/>
<circle cx="439.94" cy="101.27" r="1.2" fill="#c07040"/>
<circle cx="445.75" cy="101.27" r="1.2" fill="#f03848"/>
<circle cx="400.85" cy="103.57" r="1.2" fill="#a0a060"/>
<circle cx="411.88" cy="103.27" r="1.2" fill="#b040c0"/>
<circle cx="421.9" cy="102.77" r="1.2" fill="#f03848"/>
<circle cx="432.42" cy="101.77" r="1.2" fill="#c060a0"/>
<circle cx="437.44" cy="102.77" r="1.2" fill="#c050c0"/>
<circle cx="441.95" cy="104.27" r="1.2" fill="#c08050"/>
<circle cx="447.46" cy="103.57" r="1.2" fill="#c8603a"/>
<circle cx="449.96" cy="103.27" r="1.2" fill="#e84040"/>
<circle cx="409.07" cy="105.58" r="1.2" fill="#c08040"/>
<circle cx="424.11" cy="106.58" r="1.2" fill="#f03848"/>
<circle cx="430.72" cy="105.58" r="1.2" fill="#e84040"/>
<circle cx="431.92" cy="106.78" r="1.2" fill="#f03848"/>
<circle cx="434.93" cy="105.58" r="1.2" fill="#f03848"/>
<circle cx="437.94" cy="105.28" r="1.2" fill="#a0a040"/>
<circle cx="446.46" cy="106.28" r="1.2" fill="#f03848"/>
<circle cx="450.46" cy="106.78" r="1.2" fill="#f03848"/>
<circle cx="403.86" cy="109.28" r="1.2" fill="#c08050"/>
<circle cx="420.9" cy="109.78" r="1.2" fill="#b06040"/>
<circle cx="426.91" cy="110.28" r="1.2" fill="#e84040"/>
<circle cx="430.42" cy="109.58" r="1.2" fill="#b08040"/>
<circle cx="435.43" cy="109.28" r="1.2" fill="#b040a0"/>
<circle cx="438.94" cy="108.58" r="1.2" fill="#c040b0"/>
<circle cx="439.94" cy="110.78" r="1.2" fill="#c08040"/>
<circle cx="444.15" cy="109.78" r="1.2" fill="#f03848"/>
<circle cx="401.86" cy="112.78" r="1.2" fill="#e84040"/>
<circle cx="415.69" cy="111.58" r="1.2" fill="#c08050"/>
<circle cx="424.71" cy="112.58" r="1.2" fill="#90b040"/>
<circle cx="421.1" cy="114.58" r="1.2" fill="#e84040"/>
<circle cx="427.91" cy="114.98" r="1.2" fill="#f03848"/>
<circle cx="433.93" cy="112.28" r="1.2" fill="#c040c0"/>
<circle cx="436.43" cy="113.98" r="1.2" fill="#60c030"/>
<circle cx="433.93" cy="114.98" r="1.2" fill="#f03848"/>
<circle cx="409.87" cy="115.78" r="1.2" fill="#c08050"/>
<circle cx="424.71" cy="115.78" r="1.2" fill="#c8603a"/>
<circle cx="446.96" cy="112.78" r="1.2" fill="#f03848"/>
<circle cx="449.96" cy="112.28" r="1.2" fill="#e84040"/>
<circle cx="404.86" cy="118.29" r="1.2" fill="#c08050"/>
<circle cx="415.89" cy="117.79" r="1.2" fill="#a0a040"/>
<circle cx="419.39" cy="118.29" r="1.2" fill="#b050c0"/>
<circle cx="422.4" cy="119.29" r="1.2" fill="#c08050"/>
<circle cx="426.71" cy="117.59" r="1.2" fill="#f03848"/>
<circle cx="429.92" cy="118.79" r="1.2" fill="#e84040"/>
<circle cx="432.92" cy="117.79" r="1.2" fill="#a040c0"/>
<circle cx="437.94" cy="118.79" r="1.2" fill="#e84040"/>
<circle cx="439.94" cy="117.29" r="1.2" fill="#c8603a"/>
<circle cx="447.46" cy="115.78" r="1.2" fill="#f03848"/>
<circle cx="449.96" cy="116.79" r="1.2" fill="#a040c0"/>
<circle cx="451.97" cy="115.78" r="1.2" fill="#f03848"/>
<circle cx="449.46" cy="119.29" r="1.2" fill="#f03848"/>
<circle cx="445.95" cy="119.79" r="1.2" fill="#f03848"/>
<circle cx="401.86" cy="120.79" r="1.2" fill="#f03848"/>
<circle cx="412.68" cy="120.79" r="1.2" fill="#f03848"/>
<circle cx="425.91" cy="121.29" r="1.2" fill="#f03848"/>
<circle cx="430.42" cy="120.99" r="1.2" fill="#e84040"/>
<circle cx="432.72" cy="120.29" r="1.2" fill="#b09040"/>
<circle cx="441.95" cy="120.29" r="1.2" fill="#c09040"/>
<circle cx="417.89" cy="122.79" r="1.2" fill="#e84040"/>
<circle cx="421.4" cy="123.59" r="1.2" fill="#f03848"/>
<circle cx="428.92" cy="123.79" r="1.2" fill="#4040f0"/>
<circle cx="432.92" cy="123.29" r="1.2" fill="#e84040"/>
<circle cx="436.93" cy="122.79" r="1.2" fill="#e84040"/>
<circle cx="444.95" cy="123.29" r="1.2" fill="#f03848"/>
<circle cx="448.96" cy="122.29" r="1.2" fill="#f03848"/>
<circle cx="408.87" cy="124.79" r="1.2" fill="#f03848"/>
<circle cx="412.88" cy="125.79" r="1.2" fill="#f03848"/>
<circle cx="426.41" cy="124.99" r="1.2" fill="#e84040"/>
<circle cx="429.92" cy="125.59" r="1.2" fill="#e84040"/>
<circle cx="447.96" cy="125.29" r="1.2" fill="#f03848"/>
<circle cx="450.97" cy="124.29" r="1.2" fill="#f03848"/>
<circle cx="436.43" cy="125.79" r="1.2" fill="#f03848"/>
<circle cx="438.94" cy="125.79" r="1.2" fill="#f03848"/>
<circle cx="450.46" cy="125.79" r="1.2" fill="#f03848"/>
<circle cx="427.91" cy="125.99" r="1.2" fill="#a0a040"/>
<circle cx="469.01" cy="56.53" r="1.2" fill="#f03848"/>
<circle cx="484.54" cy="54.73" r="1.2" fill="#f03848"/>
<circle cx="491.06" cy="55.93" r="1.2" fill="#f03848"/>
<circle cx="474.52" cy="63.94" r="1.2" fill="#b040a0"/>
<circle cx="488.25" cy="65.24" r="1.2" fill="#f03848"/>
<circle cx="488.55" cy="69.25" r="1.2" fill="#a0a040"/>
<circle cx="462.19" cy="69.25" r="1.2" fill="#e84040"/>
<circle cx="478.03" cy="71.75" r="1.2" fill="#a0a040"/>
<circle cx="482.84" cy="72.55" r="1.2" fill="#a0a040"/>
<circle cx="473.82" cy="74.95" r="1.2" fill="#f03848"/>
<circle cx="486.04" cy="77.75" r="1.2" fill="#f03848"/>
<circle cx="481.03" cy="80.55" r="1.2" fill="#f03848"/>
<circle cx="484.24" cy="82.76" r="1.2" fill="#f03848"/>
<circle cx="493.56" cy="82.96" r="1.2" fill="#f03848"/>
<circle cx="491.56" cy="86.26" r="1.2" fill="#f03848"/>
<circle cx="461.19" cy="83.56" r="1.2" fill="#c8603a"/>
<circle cx="465" cy="83.76" r="1.2" fill="#e84040"/>
<circle cx="454.97" cy="86.26" r="1.2" fill="#f03848"/>
<circle cx="457.98" cy="87.96" r="1.2" fill="#a0a040"/>
<circle cx="475.82" cy="85.56" r="1.2" fill="#f03848"/>
<circle cx="483.24" cy="85.76" r="1.2" fill="#a040c0"/>
<circle cx="483.84" cy="89.26" r="1.2" fill="#a040c0"/>
<circle cx="475.52" cy="90.76" r="1.2" fill="#f03848"/>
<circle cx="466" cy="91.76" r="1.2" fill="#c8603a"/>
<circle cx="491.06" cy="90.26" r="1.2" fill="#f03848"/>
<circle cx="488.55" cy="91.76" r="1.2" fill="#c8603a"/>
<circle cx="472.01" cy="93.97" r="1.2" fill="#b040a0"/>
<circle cx="477.02" cy="93.77" r="1.2" fill="#f03848"/>
<circle cx="483.04" cy="93.57" r="1.2" fill="#c8603a"/>
<circle cx="492.06" cy="92.77" r="1.2" fill="#c8603a"/>
<circle cx="492.06" cy="95.27" r="1.2" fill="#f03848"/>
<circle cx="454.97" cy="93.97" r="1.2" fill="#f03848"/>
<circle cx="459.79" cy="94.97" r="1.2" fill="#f03848"/>
<circle cx="463.79" cy="95.97" r="1.2" fill="#f03848"/>
<circle cx="470.51" cy="96.57" r="1.2" fill="#f03848"/>
<circle cx="479.23" cy="95.57" r="1.2" fill="#f03848"/>
<circle cx="481.23" cy="96.97" r="1.2" fill="#f03848"/>
<circle cx="485.04" cy="98.27" r="1.2" fill="#f03848"/>
<circle cx="454.47" cy="98.77" r="1.2" fill="#f03848"/>
<circle cx="460.49" cy="98.27" r="1.2" fill="#e84040"/>
<circle cx="465.5" cy="98.77" r="1.2" fill="#f03848"/>
<circle cx="468" cy="98.77" r="1.2" fill="#a040c0"/>
<circle cx="473.52" cy="98.57" r="1.2" fill="#f03848"/>
<circle cx="477.02" cy="99.97" r="1.2" fill="#a040c0"/>
<circle cx="480.03" cy="100.57" r="1.2" fill="#d07040"/>
<circle cx="483.04" cy="101.77" r="1.2" fill="#f03848"/>
<circle cx="487.55" cy="102.77" r="1.2" fill="#f03848"/>
<circle cx="489.55" cy="103.27" r="1.2" fill="#f03848"/>
<circle cx="458.98" cy="101.77" r="1.2" fill="#f03848"/>
<circle cx="462.99" cy="102.77" r="1.2" fill="#a030b0"/>
<circle cx="464.5" cy="103.77" r="1.2" fill="#f03848"/>
<circle cx="467" cy="102.77" r="1.2" fill="#a040c0"/>
<circle cx="469.51" cy="102.77" r="1.2" fill="#f03848"/>
<circle cx="473.01" cy="101.27" r="1.2" fill="#c04080"/>
<circle cx="471.51" cy="104.27" r="1.2" fill="#c08040"/>
<circle cx="478.53" cy="103.77" r="1.2" fill="#c08040"/>
<circle cx="482.04" cy="104.78" r="1.2" fill="#c8603a"/>
<circle cx="485.04" cy="106.28" r="1.2" fill="#f03848"/>
<circle cx="476.02" cy="106.78" r="1.2" fill="#a040c0"/>
<circle cx="457.48" cy="107.28" r="1.2" fill="#f03848"/>
<circle cx="461.49" cy="106.78" r="1.2" fill="#f03848"/>
<circle cx="465" cy="107.78" r="1.2" fill="#f03848"/>
<circle cx="468" cy="107.78" r="1.2" fill="#f03848"/>
<circle cx="469.51" cy="109.28" r="1.2" fill="#a040c0"/>
<circle cx="473.01" cy="109.98" r="1.2" fill="#a040c0"/>
<circle cx="454.47" cy="110.58" r="1.2" fill="#e84040"/>
<circle cx="458.98" cy="109.78" r="1.2" fill="#c8603a"/>
<circle cx="462.49" cy="110.28" r="1.2" fill="#f03848"/>
<circle cx="466" cy="110.78" r="1.2" fill="#e84040"/>
<circle cx="452.97" cy="112.78" r="1.2" fill="#e84040"/>
<circle cx="455.98" cy="112.78" r="1.2" fill="#c08040"/>
<circle cx="459.99" cy="113.28" r="1.2" fill="#f03848"/>
<circle cx="463.99" cy="113.28" r="1.2" fill="#f03848"/>
<circle cx="468" cy="114.28" r="1.2" fill="#c050b0"/>
<circle cx="472.01" cy="114.58" r="1.2" fill="#e84040"/>
<circle cx="480.83" cy="114.78" r="1.2" fill="#f03848"/>
<circle cx="454.47" cy="115.78" r="1.2" fill="#c8603a"/>
<circle cx="458.48" cy="115.58" r="1.2" fill="#e84040"/>
<circle cx="461.49" cy="115.78" r="1.2" fill="#f03848"/>
<circle cx="466" cy="117.79" r="1.2" fill="#e84040"/>
<circle cx="471.01" cy="117.79" r="1.2" fill="#a040c0"/>
<circle cx="473.01" cy="117.29" r="1.2" fill="#f03848"/>
<circle cx="453.97" cy="118.29" r="1.2" fill="#a040c0"/>
<circle cx="457.98" cy="118.79" r="1.2" fill="#f03848"/>
<circle cx="462.99" cy="119.29" r="1.2" fill="#f03848"/>
<circle cx="482.04" cy="118.79" r="1.2" fill="#f03848"/>
<circle cx="474.02" cy="120.79" r="1.2" fill="#f03848"/>
<circle cx="478.53" cy="120.79" r="1.2" fill="#f03848"/>
<circle cx="482.54" cy="121.79" r="1.2" fill="#f03848"/>
<circle cx="454.97" cy="122.29" r="1.2" fill="#a0a040"/>
<circle cx="458.98" cy="121.79" r="1.2" fill="#e84040"/>
<circle cx="463.99" cy="121.79" r="1.2" fill="#c08040"/>
<circle cx="467.5" cy="120.79" r="1.2" fill="#f03848"/>
<circle cx="470.01" cy="123.29" r="1.2" fill="#e84040"/>
<circle cx="465" cy="124.29" r="1.2" fill="#f03848"/>
<circle cx="476.52" cy="124.79" r="1.2" fill="#c8603a"/>
<circle cx="480.53" cy="123.79" r="1.2" fill="#f03848"/>
<circle cx="493.56" cy="124.29" r="1.2" fill="#f03848"/>
<circle cx="453.97" cy="125.79" r="1.2" fill="#c8603a"/>
<circle cx="458.98" cy="125.29" r="1.2" fill="#c8603a"/>
<circle cx="471.01" cy="126.29" r="1.2" fill="#f03848"/>
<circle cx="479.03" cy="126.29" r="1.2" fill="#c8603a"/>
<circle cx="448.66" cy="118.29" r="1.2" fill="#c8603a"/>
<circle cx="450.87" cy="118.99" r="1.2" fill="#c8603a"/>
<circle cx="448.36" cy="120.59" r="1.2" fill="#a0a040"/>
<circle cx="450.46" cy="121.39" r="1.2" fill="#f03848"/>
<circle cx="447.56" cy="122.09" r="1.2" fill="#f03848"/>
<circle cx="449.26" cy="123.39" r="1.2" fill="#b08040"/>
<circle cx="453.77" cy="117.19" r="1.2" fill="#f03848"/>
<circle cx="451.57" cy="114.38" r="1.2" fill="#f03848"/>
<circle cx="453.47" cy="110.78" r="1.2" fill="#f03848"/>
<circle cx="446.46" cy="117.59" r="1.2" fill="#b040a0"/>
</g>
<rect x="288.2" y="15.5" width="222.7" height="118.6" fill="none" stroke="#cccccc" stroke-width="1.4"/>
<rect x="524.3" y="19" width="2.7" height="111.5" fill="url(#g_grb)"/>
<text x="528.5" y="132.8" font-size="6">1.0</text>
<text x="528.5" y="110.5" font-size="6">1.2</text>
<text x="528.5" y="88.2" font-size="6">1.4</text>
<text x="528.5" y="65.9" font-size="6">1.6</text>
<text x="528.5" y="43.6" font-size="6">1.8</text>
<text x="528.5" y="21.3" font-size="6">2.0</text>
<text x="288.4" y="139.4" font-size="4.1" fill="#111" font-weight="bold" text-anchor="middle" textLength="9.0" lengthAdjust="spacingAndGlyphs">95°E</text>
<text x="329.64" y="139.4" font-size="4.1" fill="#111" font-weight="bold" text-anchor="middle" textLength="11.2" lengthAdjust="spacingAndGlyphs">100°E</text>
<text x="370.88" y="139.4" font-size="4.1" fill="#111" font-weight="bold" text-anchor="middle" textLength="11.2" lengthAdjust="spacingAndGlyphs">105°E</text>
<text x="412.12" y="139.4" font-size="4.1" fill="#111" font-weight="bold" text-anchor="middle" textLength="11.2" lengthAdjust="spacingAndGlyphs">110°E</text>
<text x="453.36" y="139.4" font-size="4.1" fill="#111" font-weight="bold" text-anchor="middle" textLength="11.2" lengthAdjust="spacingAndGlyphs">115°E</text>
<text x="494.6" y="139.4" font-size="4.1" fill="#111" font-weight="bold" text-anchor="middle" textLength="11.2" lengthAdjust="spacingAndGlyphs">120°E</text>
<text x="286.6" y="21.24" font-size="4.2" fill="#111" font-weight="bold" text-anchor="end" textLength="9.0" lengthAdjust="spacingAndGlyphs">50°N</text>
<text x="286.6" y="62.36" font-size="4.2" fill="#111" font-weight="bold" text-anchor="end" textLength="9.0" lengthAdjust="spacingAndGlyphs">45°N</text>
<text x="286.6" y="103.49" font-size="4.2" fill="#111" font-weight="bold" text-anchor="end" textLength="9.0" lengthAdjust="spacingAndGlyphs">40°N</text>
<text x="399.55" y="12.5" font-size="7" text-anchor="middle">Gust Factor to max 2min wind  <tspan font-style="italic">b</tspan><tspan font-size="4.6" font-style="italic" dy="1.3">g2</tspan></text>
<text x="300.9" y="35" font-size="11.5">b</text>
<g fill="none" stroke-linejoin="round" stroke-linecap="round">
<polyline points="20.2,203.27 21.1,203.47 23.62,204.48 25.63,208.19 28.14,212.7 31.16,215.91 38.2,215.91 49.76,216.52 59.81,216.92 65.85,216.52 74.89,217.72 78.92,219.73 84.95,221.73 90.98,223.24 98.02,223.24 99.02,224.74 103.05,225.25 108.07,223.24 115.11,220.73 123.15,218.22 130.19,218.22 136.22,218.72 142.26,217.22 148.29,214.71 153.32,210.7 159.35,208.19 158.34,206.18 156.33,203.67 156.83,199.66 159.35,197.15 164.37,197.15 168.4,198.66 172.42,199.66 177.44,198.66 181.47,196.15 185.49,194.84 189.11,194.04 193.93,191.63 197.55,189.22 202.38,186.82 206.6,185.01 212.03,183.81 218.06,183.81 224.1,184.41 225.9,182.6 224.1,180.19 220.48,177.18 215.65,173.57 212.03,172.37 208.41,173.57 204.79,175.38 199.97,174.17 194.54,174.78 190.92,174.17 190.11,171.77 192.73,167.55 196.35,162.74 199.36,157.92 203.59,158.52 207.81,159.72 210.82,158.52 215.65,156.11 220.48,154.91 221.08,153.7 219.87,152.3" stroke="#a8a8a8" stroke-width="1.2"/>
<polyline points="243.6,189.12 241.29,189.93 240.99,191.13 241.79,191.93 243.6,192.23" stroke="#a8a8a8" stroke-width="1.2"/>
<polyline points="31.16,215.91 30.15,217.22 29.15,222.74 27.64,223.54 20.2,224.24" stroke="#a8a8a8" stroke-width="1.2"/>
<polyline points="38.2,215.91 39.7,218.72 42.72,223.74 42.22,226.75 44.73,229.76 47.25,233.77 49.76,234.28 53.78,232.27 59.81,231.27 62.83,231.77 63.33,234.28 59.81,237.29 57.3,239.29 59.81,240.3 63.83,242.3 67.86,244.31 70.87,246.82 74.89,248.62 77.91,246.32 79.92,245.31 84.95,244.81 88.97,243.81 94,242.8 96.01,244.81 94.5,247.32 90.98,250.83 89.47,253.84 91.99,256.35 97.01,259.36 99.02,259.36 104.05,258.86 108.07,257.35 109.58,255.35 109.58,251.83 110.08,248.82 112.09,245.81 114.1,243.81 116.62,243.31 118.13,244.81 118.13,247.82 116.12,249.83 115.61,252.34 118.13,253.84 121.14,254.84 124.16,256.35 127.17,257.86 130.19,258.36 133.21,256.85 135.22,252.84 137.23,249.83 141.25,246.82 145.27,244.31 149.29,244.31 152.31,243.31 153.32,242.3 157.34,241.3 160.35,239.29 162.36,237.79 165.38,235.78 169.4,235.28 173.42,235.28 176.44,235.78 176.44,232.77 176.44,228.76 176.94,225.75 178.45,223.74 180.46,222.74 183.48,223.74 185.49,225.25 189.51,224.24 193.53,222.74 198.56,221.73 201.57,219.73 205.6,217.72 208.61,217.22 210.62,218.72 211.63,221.73 212.63,224.74 214.14,226.25 217.66,226.75 220.17,224.74 220.68,220.73 222.69,219.73 224.7,220.73 226.71,223.74 228.72,221.73 231.74,219.73 235.76,218.22 240.78,217.72 243.6,217.52" stroke="#a8a8a8" stroke-width="1.2"/>
<polyline points="176.44,235.78 179.46,235.28 180.96,236.28 179.46,238.79 178.45,241.8 179.46,243.81 178.45,246.82 175.43,248.82 174.43,251.83 173.42,254.84 174.43,260.87 173.42,265.88 176.44,268.89 182.47,270.4 185.49,269.39 188.81,265.08 192.02,261.87 196.55,259.56 199.56,257.35 203.08,255.25 207.41,254.14 210.62,254.64 214.04,254.64 217.26,255.25 217.66,258.36 221.38,261.87 226.11,261.47 229.02,258.56 231.84,255.75 235.76,257.65 239.58,259.06 243.6,259.56" stroke="#a8a8a8" stroke-width="1.2"/>
<polyline points="231.84,255.75 232.84,252.84 233.75,250.83" stroke="#a8a8a8" stroke-width="1.2"/>
<polyline points="189.51,238.79 191.52,235.78 194.54,233.77 197.55,231.27 199.56,231.77 201.57,233.77 204.59,234.78 206.6,236.78 206.6,238.79 208.61,242.8 206.6,245.81" stroke="#a8a8a8" stroke-width="1.2"/>
<polyline points="189.51,238.79 190.51,240.8 194.54,241.8 199.56,241.8 201.57,243.81 200.57,246.82 202.58,249.83 205.6,251.83 208.61,253.84" stroke="#a8a8a8" stroke-width="1.2"/>
<polyline points="212.63,224.74 215.65,227.75 217.66,230.76 220.68,233.77 222.69,236.78 224.7,238.19 228.32,237.09 231.84,234.88 234.75,232.07 237.67,230.96 241.19,230.96 243.6,231.67" stroke="#a8a8a8" stroke-width="1.2"/>
<polyline points="224.7,238.79 222.69,240.8 219.67,243.81 215.65,245.81 211.63,245.81 208.61,245.81" stroke="#a8a8a8" stroke-width="1.2"/>
<polyline points="20.2,244.81 23.62,246.32 29.65,249.83 35.68,252.34 37.19,250.83 37.19,245.81 39.7,245.81 44.73,247.82 47.75,248.32 49.76,246.32 52.77,246.82 57.8,250.83 61.82,251.83 66.85,253.84 71.88,256.35 74.89,257.35 77.91,257.86 80.93,260.87 82.94,262.87 85.95,269.9 86.46,271.2" stroke="#a8a8a8" stroke-width="1.2"/>
<polyline points="99.02,259.36 99.02,260.87 102.04,263.88 104.55,266.89 106.06,271.2" stroke="#a8a8a8" stroke-width="1.2"/>
<polyline points="123.15,255.85 122.15,259.86 120.14,261.87 117.12,261.87 116.12,263.88 114.61,266.89 115.11,268.89 118.13,271.2" stroke="#a8a8a8" stroke-width="1.2"/>
<polyline points="120.14,261.87 125.16,263.88 129.19,265.88 131.2,267.89 133.21,271.2" stroke="#a8a8a8" stroke-width="1.2"/>
<polyline points="152.31,243.31 151.3,247.82 150.3,250.83 148.29,254.84 147.28,259.86 148.29,263.88 147.28,267.89 148.29,271.2" stroke="#a8a8a8" stroke-width="1.2"/>
<polyline points="243.6,237.29 240.48,240.4 237.67,242.3 237.17,243.81 239.58,244.21 242.39,245.21 243.6,245.41" stroke="#555" stroke-width="0.9"/>
<polyline points="236.16,248.22 239.08,247.12 241.89,245.71 243.6,245.31" stroke="#555" stroke-width="0.9"/>
<polyline points="243.6,262.87 239.58,265.28 234.75,267.19 231.84,269.09 229.02,270.5 228.02,271.2" stroke="#555" stroke-width="0.9"/>
</g>
<g>
<circle cx="37.19" cy="223.94" r="1.2" fill="#a0a040"/>
<circle cx="69.87" cy="222.54" r="1.2" fill="#f02828"/>
<circle cx="26.63" cy="234.28" r="1.2" fill="#f02828"/>
<circle cx="36.89" cy="236.58" r="1.2" fill="#f02828"/>
<circle cx="57.6" cy="236.28" r="1.2" fill="#a0a040"/>
<circle cx="52.27" cy="238.79" r="1.2" fill="#f02828"/>
<circle cx="49.05" cy="240.6" r="1.2" fill="#c06040"/>
<circle cx="60.32" cy="243.81" r="1.2" fill="#f02828"/>
<circle cx="63.83" cy="246.32" r="1.2" fill="#c08040"/>
<circle cx="48.75" cy="248.32" r="1.2" fill="#d06040"/>
<circle cx="58.61" cy="248.32" r="1.2" fill="#c08040"/>
<circle cx="70.37" cy="248.62" r="1.2" fill="#c06040"/>
<circle cx="58.3" cy="251.63" r="1.2" fill="#c06040"/>
<circle cx="68.36" cy="251.33" r="1.2" fill="#f02828"/>
<circle cx="63.63" cy="253.64" r="1.2" fill="#c08040"/>
<circle cx="23.42" cy="256.35" r="1.2" fill="#a040c0"/>
<circle cx="39.7" cy="260.36" r="1.2" fill="#4040f0"/>
<circle cx="53.58" cy="261.07" r="1.2" fill="#c04080"/>
<circle cx="62.63" cy="260.87" r="1.2" fill="#c04080"/>
<circle cx="74.39" cy="260.36" r="1.2" fill="#f02828"/>
<circle cx="81.13" cy="227.55" r="1.2" fill="#a0a040"/>
<circle cx="114.41" cy="227.25" r="1.2" fill="#a0a040"/>
<circle cx="119.43" cy="228.96" r="1.2" fill="#f02828"/>
<circle cx="119.94" cy="230.76" r="1.2" fill="#a0a040"/>
<circle cx="122.35" cy="232.97" r="1.2" fill="#f02828"/>
<circle cx="101.24" cy="237.59" r="1.2" fill="#b040b8"/>
<circle cx="119.13" cy="235.98" r="1.2" fill="#c06040"/>
<circle cx="126.17" cy="238.59" r="1.2" fill="#f02828"/>
<circle cx="109.08" cy="240.6" r="1.2" fill="#f02828"/>
<circle cx="117.92" cy="240.3" r="1.2" fill="#f02828"/>
<circle cx="84.45" cy="243.61" r="1.2" fill="#a0a040"/>
<circle cx="75.4" cy="245.31" r="1.2" fill="#f02828"/>
<circle cx="127.17" cy="246.32" r="1.2" fill="#b040b8"/>
<circle cx="113.6" cy="245.31" r="1.2" fill="#f02828"/>
<circle cx="117.32" cy="245.31" r="1.2" fill="#4040ff"/>
<circle cx="114.61" cy="247.32" r="1.2" fill="#d04070"/>
<circle cx="116.42" cy="248.32" r="1.2" fill="#d04070"/>
<circle cx="108.07" cy="248.32" r="1.2" fill="#b040c0"/>
<circle cx="86.96" cy="250.33" r="1.2" fill="#a050c0"/>
<circle cx="79.72" cy="250.83" r="1.2" fill="#b040b8"/>
<circle cx="113.1" cy="251.03" r="1.2" fill="#4040ff"/>
<circle cx="113.1" cy="253.84" r="1.2" fill="#4040f0"/>
<circle cx="112.6" cy="255.35" r="1.2" fill="#f02828"/>
<circle cx="77.41" cy="253.64" r="1.2" fill="#c06040"/>
<circle cx="123.15" cy="253.84" r="1.2" fill="#f02828"/>
<circle cx="84.95" cy="256.35" r="1.2" fill="#b040b8"/>
<circle cx="121.14" cy="256.85" r="1.2" fill="#b040b8"/>
<circle cx="106.06" cy="256.35" r="1.2" fill="#f02828"/>
<circle cx="124.16" cy="258.66" r="1.2" fill="#a040c0"/>
<circle cx="85.45" cy="259.66" r="1.2" fill="#b040c0"/>
<circle cx="75.4" cy="260.06" r="1.2" fill="#a040c0"/>
<circle cx="104.25" cy="259.06" r="1.2" fill="#f02828"/>
<circle cx="108.57" cy="259.66" r="1.2" fill="#a040c0"/>
<circle cx="119.13" cy="259.66" r="1.2" fill="#f02828"/>
<circle cx="84.95" cy="261.87" r="1.2" fill="#f02828"/>
<circle cx="95" cy="262.07" r="1.2" fill="#b040b8"/>
<circle cx="115.11" cy="261.07" r="1.2" fill="#a040c0"/>
<circle cx="120.64" cy="262.37" r="1.2" fill="#d04070"/>
<circle cx="145.27" cy="217.72" r="1.2" fill="#f02828"/>
<circle cx="160.15" cy="208.69" r="1.2" fill="#f02828"/>
<circle cx="178.45" cy="200.66" r="1.2" fill="#c08040"/>
<circle cx="184.99" cy="205.68" r="1.2" fill="#c06040"/>
<circle cx="174.13" cy="207.18" r="1.2" fill="#f02828"/>
<circle cx="165.88" cy="216.22" r="1.2" fill="#f02828"/>
<circle cx="168.19" cy="219.23" r="1.2" fill="#f02828"/>
<circle cx="175.94" cy="220.53" r="1.2" fill="#f02828"/>
<circle cx="177.44" cy="223.24" r="1.2" fill="#f02828"/>
<circle cx="181.97" cy="223.54" r="1.2" fill="#f02828"/>
<circle cx="184.99" cy="220.23" r="1.2" fill="#f02828"/>
<circle cx="144.07" cy="224.24" r="1.2" fill="#c06040"/>
<circle cx="148.09" cy="224.94" r="1.2" fill="#f02828"/>
<circle cx="131.7" cy="225.75" r="1.2" fill="#a040c0"/>
<circle cx="157.54" cy="225.95" r="1.2" fill="#f02828"/>
<circle cx="154.12" cy="227.95" r="1.2" fill="#f02828"/>
<circle cx="165.38" cy="228.26" r="1.2" fill="#f02828"/>
<circle cx="170.41" cy="226.75" r="1.2" fill="#f02828"/>
<circle cx="173.42" cy="225.55" r="1.2" fill="#60c030"/>
<circle cx="131.4" cy="229.76" r="1.2" fill="#f02828"/>
<circle cx="137.03" cy="230.26" r="1.2" fill="#f02828"/>
<circle cx="145.07" cy="230.26" r="1.2" fill="#60c030"/>
<circle cx="133.01" cy="232.77" r="1.2" fill="#a040c0"/>
<circle cx="155.83" cy="229.76" r="1.2" fill="#a0a040"/>
<circle cx="157.14" cy="231.77" r="1.2" fill="#a040c0"/>
<circle cx="153.52" cy="232.77" r="1.2" fill="#f02828"/>
<circle cx="169.4" cy="230.26" r="1.2" fill="#f02828"/>
<circle cx="176.94" cy="229.76" r="1.2" fill="#f02828"/>
<circle cx="182.97" cy="229.26" r="1.2" fill="#f02828"/>
<circle cx="164.88" cy="231.77" r="1.2" fill="#c08040"/>
<circle cx="170.91" cy="232.77" r="1.2" fill="#f02828"/>
<circle cx="175.43" cy="232.27" r="1.2" fill="#f02828"/>
<circle cx="180.46" cy="232.77" r="1.2" fill="#a040c0"/>
<circle cx="183.98" cy="232.77" r="1.2" fill="#f02828"/>
<circle cx="142.76" cy="234.28" r="1.2" fill="#f02828"/>
<circle cx="144.27" cy="235.58" r="1.2" fill="#f02828"/>
<circle cx="148.59" cy="234.28" r="1.2" fill="#f02828"/>
<circle cx="154.32" cy="236.78" r="1.2" fill="#f02828"/>
<circle cx="159.35" cy="235.78" r="1.2" fill="#f02828"/>
<circle cx="164.37" cy="234.58" r="1.2" fill="#f02828"/>
<circle cx="175.94" cy="235.28" r="1.2" fill="#f02828"/>
<circle cx="178.25" cy="235.58" r="1.2" fill="#f02828"/>
<circle cx="172.42" cy="238.29" r="1.2" fill="#a040c0"/>
<circle cx="178.25" cy="238.29" r="1.2" fill="#f02828"/>
<circle cx="133.21" cy="240.6" r="1.2" fill="#f02828"/>
<circle cx="144.27" cy="240.3" r="1.2" fill="#4040f0"/>
<circle cx="154.32" cy="239.79" r="1.2" fill="#f02828"/>
<circle cx="164.88" cy="238.79" r="1.2" fill="#f02828"/>
<circle cx="169.9" cy="239.79" r="1.2" fill="#f02828"/>
<circle cx="174.43" cy="241.3" r="1.2" fill="#f02828"/>
<circle cx="179.96" cy="240.6" r="1.2" fill="#f02828"/>
<circle cx="182.47" cy="240.3" r="1.2" fill="#b040b8"/>
<circle cx="141.45" cy="242.6" r="1.2" fill="#f02828"/>
<circle cx="156.53" cy="243.61" r="1.2" fill="#f02828"/>
<circle cx="163.17" cy="242.6" r="1.2" fill="#4040f0"/>
<circle cx="164.37" cy="243.81" r="1.2" fill="#f02828"/>
<circle cx="167.39" cy="242.6" r="1.2" fill="#f02828"/>
<circle cx="170.41" cy="242.3" r="1.2" fill="#f02828"/>
<circle cx="178.95" cy="243.31" r="1.2" fill="#f02828"/>
<circle cx="182.97" cy="243.81" r="1.2" fill="#f02828"/>
<circle cx="136.22" cy="246.32" r="1.2" fill="#f02828"/>
<circle cx="153.32" cy="246.82" r="1.2" fill="#a040c0"/>
<circle cx="159.35" cy="247.32" r="1.2" fill="#f02828"/>
<circle cx="162.87" cy="246.62" r="1.2" fill="#80b040"/>
<circle cx="167.89" cy="246.32" r="1.2" fill="#f02828"/>
<circle cx="171.41" cy="245.61" r="1.2" fill="#b040b8"/>
<circle cx="172.42" cy="247.82" r="1.2" fill="#f02828"/>
<circle cx="176.64" cy="246.82" r="1.2" fill="#a040c0"/>
<circle cx="134.21" cy="249.83" r="1.2" fill="#b040b8"/>
<circle cx="148.09" cy="248.62" r="1.2" fill="#f02828"/>
<circle cx="157.14" cy="249.63" r="1.2" fill="#c06040"/>
<circle cx="153.52" cy="251.63" r="1.2" fill="#f02828"/>
<circle cx="160.35" cy="252.04" r="1.2" fill="#f02828"/>
<circle cx="166.39" cy="249.33" r="1.2" fill="#a040c0"/>
<circle cx="168.9" cy="251.03" r="1.2" fill="#f02828"/>
<circle cx="166.39" cy="252.04" r="1.2" fill="#c06040"/>
<circle cx="142.26" cy="252.84" r="1.2" fill="#4040f0"/>
<circle cx="157.14" cy="252.84" r="1.2" fill="#f02828"/>
<circle cx="179.46" cy="249.83" r="1.2" fill="#f02828"/>
<circle cx="182.47" cy="249.33" r="1.2" fill="#f02828"/>
<circle cx="137.23" cy="255.35" r="1.2" fill="#a040c0"/>
<circle cx="148.29" cy="254.84" r="1.2" fill="#a040c0"/>
<circle cx="151.81" cy="255.35" r="1.2" fill="#b040b8"/>
<circle cx="154.82" cy="256.35" r="1.2" fill="#a040c0"/>
<circle cx="159.15" cy="254.64" r="1.2" fill="#d04070"/>
<circle cx="162.36" cy="255.85" r="1.2" fill="#b040b8"/>
<circle cx="165.38" cy="254.84" r="1.2" fill="#f02828"/>
<circle cx="170.41" cy="255.85" r="1.2" fill="#b040b8"/>
<circle cx="172.42" cy="254.34" r="1.2" fill="#f02828"/>
<circle cx="179.96" cy="252.84" r="1.2" fill="#a040c0"/>
<circle cx="182.47" cy="253.84" r="1.2" fill="#f02828"/>
<circle cx="184.48" cy="252.84" r="1.2" fill="#c06040"/>
<circle cx="181.97" cy="256.35" r="1.2" fill="#f02828"/>
<circle cx="178.45" cy="256.85" r="1.2" fill="#f02828"/>
<circle cx="134.21" cy="257.86" r="1.2" fill="#f02828"/>
<circle cx="145.07" cy="257.86" r="1.2" fill="#b040b8"/>
<circle cx="158.34" cy="258.36" r="1.2" fill="#f02828"/>
<circle cx="162.87" cy="258.06" r="1.2" fill="#d04070"/>
<circle cx="165.18" cy="257.35" r="1.2" fill="#f02828"/>
<circle cx="174.43" cy="257.35" r="1.2" fill="#b040b8"/>
<circle cx="150.3" cy="259.86" r="1.2" fill="#b040b8"/>
<circle cx="153.82" cy="260.66" r="1.2" fill="#f02828"/>
<circle cx="161.36" cy="260.87" r="1.2" fill="#4040f0"/>
<circle cx="165.38" cy="260.36" r="1.2" fill="#a040c0"/>
<circle cx="169.4" cy="259.86" r="1.2" fill="#f02828"/>
<circle cx="177.44" cy="260.36" r="1.2" fill="#f02828"/>
<circle cx="181.47" cy="259.36" r="1.2" fill="#f02828"/>
<circle cx="141.25" cy="261.87" r="1.2" fill="#d04070"/>
<circle cx="145.27" cy="262.87" r="1.2" fill="#f02828"/>
<circle cx="158.84" cy="262.07" r="1.2" fill="#f02828"/>
<circle cx="162.36" cy="262.67" r="1.2" fill="#b040b8"/>
<circle cx="180.46" cy="262.37" r="1.2" fill="#b040b8"/>
<circle cx="183.48" cy="261.37" r="1.2" fill="#f02828"/>
<circle cx="168.9" cy="262.87" r="1.2" fill="#f02828"/>
<circle cx="171.41" cy="262.87" r="1.2" fill="#4040f0"/>
<circle cx="182.97" cy="262.87" r="1.2" fill="#f02828"/>
<circle cx="160.35" cy="263.07" r="1.2" fill="#f02828"/>
<circle cx="201.57" cy="193.44" r="1.2" fill="#a0a040"/>
<circle cx="217.16" cy="191.63" r="1.2" fill="#f02828"/>
<circle cx="223.69" cy="192.84" r="1.2" fill="#f02828"/>
<circle cx="207.1" cy="200.86" r="1.2" fill="#f02828"/>
<circle cx="220.88" cy="202.17" r="1.2" fill="#f02828"/>
<circle cx="221.18" cy="206.18" r="1.2" fill="#a0a040"/>
<circle cx="194.74" cy="206.18" r="1.2" fill="#c06040"/>
<circle cx="210.62" cy="208.69" r="1.2" fill="#f02828"/>
<circle cx="215.45" cy="209.49" r="1.2" fill="#f02828"/>
<circle cx="206.4" cy="211.9" r="1.2" fill="#f02828"/>
<circle cx="218.67" cy="214.71" r="1.2" fill="#f02828"/>
<circle cx="213.64" cy="217.52" r="1.2" fill="#f02828"/>
<circle cx="216.86" cy="219.73" r="1.2" fill="#f02828"/>
<circle cx="226.21" cy="219.93" r="1.2" fill="#f02828"/>
<circle cx="224.2" cy="223.24" r="1.2" fill="#a040c0"/>
<circle cx="193.73" cy="220.53" r="1.2" fill="#f02828"/>
<circle cx="197.55" cy="220.73" r="1.2" fill="#f02828"/>
<circle cx="187.5" cy="223.24" r="1.2" fill="#a0a040"/>
<circle cx="190.51" cy="224.94" r="1.2" fill="#f02828"/>
<circle cx="208.41" cy="222.54" r="1.2" fill="#f02828"/>
<circle cx="215.85" cy="222.74" r="1.2" fill="#f02828"/>
<circle cx="216.45" cy="226.25" r="1.2" fill="#f02828"/>
<circle cx="208.11" cy="227.75" r="1.2" fill="#a0a040"/>
<circle cx="198.56" cy="228.76" r="1.2" fill="#f02828"/>
<circle cx="223.69" cy="227.25" r="1.2" fill="#f02828"/>
<circle cx="221.18" cy="228.76" r="1.2" fill="#c06040"/>
<circle cx="204.59" cy="230.96" r="1.2" fill="#a040c0"/>
<circle cx="209.62" cy="230.76" r="1.2" fill="#f02828"/>
<circle cx="215.65" cy="230.56" r="1.2" fill="#f02828"/>
<circle cx="224.7" cy="229.76" r="1.2" fill="#a040c0"/>
<circle cx="224.7" cy="232.27" r="1.2" fill="#c06040"/>
<circle cx="187.5" cy="230.96" r="1.2" fill="#f02828"/>
<circle cx="192.32" cy="231.97" r="1.2" fill="#c06040"/>
<circle cx="196.35" cy="232.97" r="1.2" fill="#f02828"/>
<circle cx="203.08" cy="233.57" r="1.2" fill="#f02828"/>
<circle cx="211.83" cy="232.57" r="1.2" fill="#f02828"/>
<circle cx="213.84" cy="233.97" r="1.2" fill="#f02828"/>
<circle cx="217.66" cy="235.28" r="1.2" fill="#f02828"/>
<circle cx="187" cy="235.78" r="1.2" fill="#f02828"/>
<circle cx="193.03" cy="235.28" r="1.2" fill="#f02828"/>
<circle cx="198.06" cy="235.78" r="1.2" fill="#a040c0"/>
<circle cx="200.57" cy="235.78" r="1.2" fill="#a040c0"/>
<circle cx="206.1" cy="235.58" r="1.2" fill="#f02828"/>
<circle cx="209.62" cy="236.98" r="1.2" fill="#f02828"/>
<circle cx="212.63" cy="237.59" r="1.2" fill="#a040c0"/>
<circle cx="215.65" cy="238.79" r="1.2" fill="#f02828"/>
<circle cx="220.17" cy="239.79" r="1.2" fill="#f02828"/>
<circle cx="222.18" cy="240.3" r="1.2" fill="#f02828"/>
<circle cx="191.52" cy="238.79" r="1.2" fill="#b040b8"/>
<circle cx="195.54" cy="239.79" r="1.2" fill="#c08040"/>
<circle cx="197.05" cy="240.8" r="1.2" fill="#f02828"/>
<circle cx="199.56" cy="239.79" r="1.2" fill="#f02828"/>
<circle cx="202.08" cy="239.79" r="1.2" fill="#c08040"/>
<circle cx="205.6" cy="238.29" r="1.2" fill="#b040b8"/>
<circle cx="204.09" cy="241.3" r="1.2" fill="#f02828"/>
<circle cx="211.13" cy="240.8" r="1.2" fill="#f02828"/>
<circle cx="214.64" cy="241.8" r="1.2" fill="#f02828"/>
<circle cx="217.66" cy="243.31" r="1.2" fill="#f02828"/>
<circle cx="208.61" cy="243.81" r="1.2" fill="#f02828"/>
<circle cx="190.01" cy="244.31" r="1.2" fill="#b040b8"/>
<circle cx="194.03" cy="243.81" r="1.2" fill="#f02828"/>
<circle cx="197.55" cy="244.81" r="1.2" fill="#f02828"/>
<circle cx="200.57" cy="244.81" r="1.2" fill="#c06040"/>
<circle cx="202.08" cy="246.32" r="1.2" fill="#f02828"/>
<circle cx="205.6" cy="247.02" r="1.2" fill="#f02828"/>
<circle cx="187" cy="247.62" r="1.2" fill="#f02828"/>
<circle cx="191.52" cy="246.82" r="1.2" fill="#d04070"/>
<circle cx="195.04" cy="247.32" r="1.2" fill="#b040b8"/>
<circle cx="198.56" cy="247.82" r="1.2" fill="#c06040"/>
<circle cx="185.49" cy="249.83" r="1.2" fill="#f02828"/>
<circle cx="188.5" cy="249.83" r="1.2" fill="#a040c0"/>
<circle cx="192.53" cy="250.33" r="1.2" fill="#f02828"/>
<circle cx="196.55" cy="250.33" r="1.2" fill="#b040b8"/>
<circle cx="200.57" cy="251.33" r="1.2" fill="#f02828"/>
<circle cx="204.59" cy="251.63" r="1.2" fill="#c06040"/>
<circle cx="213.44" cy="251.83" r="1.2" fill="#b040b8"/>
<circle cx="187" cy="252.84" r="1.2" fill="#f02828"/>
<circle cx="191.02" cy="252.64" r="1.2" fill="#f02828"/>
<circle cx="194.03" cy="252.84" r="1.2" fill="#f02828"/>
<circle cx="198.56" cy="254.84" r="1.2" fill="#f02828"/>
<circle cx="203.59" cy="254.84" r="1.2" fill="#b040b8"/>
<circle cx="205.6" cy="254.34" r="1.2" fill="#f02828"/>
<circle cx="186.49" cy="255.35" r="1.2" fill="#b040b8"/>
<circle cx="190.51" cy="255.85" r="1.2" fill="#f02828"/>
<circle cx="195.54" cy="256.35" r="1.2" fill="#d04070"/>
<circle cx="214.64" cy="255.85" r="1.2" fill="#4040f0"/>
<circle cx="206.6" cy="257.86" r="1.2" fill="#b040b8"/>
<circle cx="211.13" cy="257.86" r="1.2" fill="#a040c0"/>
<circle cx="215.15" cy="258.86" r="1.2" fill="#f02828"/>
<circle cx="187.5" cy="259.36" r="1.2" fill="#f02828"/>
<circle cx="191.52" cy="258.86" r="1.2" fill="#c04090"/>
<circle cx="196.55" cy="258.86" r="1.2" fill="#f02828"/>
<circle cx="200.07" cy="257.86" r="1.2" fill="#f02828"/>
<circle cx="202.58" cy="260.36" r="1.2" fill="#f02828"/>
<circle cx="197.55" cy="261.37" r="1.2" fill="#f02828"/>
<circle cx="209.11" cy="261.87" r="1.2" fill="#f02828"/>
<circle cx="213.14" cy="260.87" r="1.2" fill="#f02828"/>
<circle cx="226.21" cy="261.37" r="1.2" fill="#f02828"/>
<circle cx="186.49" cy="262.87" r="1.2" fill="#a040c0"/>
<circle cx="191.52" cy="262.37" r="1.2" fill="#f02828"/>
<circle cx="203.59" cy="263.37" r="1.2" fill="#d04070"/>
<circle cx="211.63" cy="263.37" r="1.2" fill="#c06040"/>
<circle cx="181.16" cy="255.35" r="1.2" fill="#f02828"/>
<circle cx="183.38" cy="256.05" r="1.2" fill="#a040c0"/>
<circle cx="180.86" cy="257.65" r="1.2" fill="#a040c0"/>
<circle cx="182.97" cy="258.46" r="1.2" fill="#d04070"/>
<circle cx="180.06" cy="259.16" r="1.2" fill="#f02828"/>
<circle cx="181.77" cy="260.46" r="1.2" fill="#b040b8"/>
<circle cx="186.29" cy="254.24" r="1.2" fill="#f02828"/>
<circle cx="184.08" cy="251.43" r="1.2" fill="#f02828"/>
<circle cx="185.99" cy="247.82" r="1.2" fill="#f02828"/>
<circle cx="178.95" cy="254.64" r="1.2" fill="#f02828"/>
</g>
<rect x="20.2" y="152.3" width="223.4" height="118.9" fill="none" stroke="#cccccc" stroke-width="1.4"/>
<rect x="256.9" y="155.6" width="2.6" height="112.2" fill="url(#g_grb)"/>
<text x="261" y="270.1" font-size="6">1.50</text>
<text x="261" y="256.07" font-size="6">1.75</text>
<text x="261" y="242.05" font-size="6">2.00</text>
<text x="261" y="228.03" font-size="6">2.25</text>
<text x="261" y="214" font-size="6">2.50</text>
<text x="261" y="199.98" font-size="6">2.75</text>
<text x="261" y="185.95" font-size="6">3.00</text>
<text x="261" y="171.93" font-size="6">3.25</text>
<text x="261" y="157.9" font-size="6">3.50</text>
<text x="20.4" y="276.5" font-size="4.1" fill="#111" font-weight="bold" text-anchor="middle" textLength="9.0" lengthAdjust="spacingAndGlyphs">95°E</text>
<text x="61.77" y="276.5" font-size="4.1" fill="#111" font-weight="bold" text-anchor="middle" textLength="11.2" lengthAdjust="spacingAndGlyphs">100°E</text>
<text x="103.14" y="276.5" font-size="4.1" fill="#111" font-weight="bold" text-anchor="middle" textLength="11.2" lengthAdjust="spacingAndGlyphs">105°E</text>
<text x="144.51" y="276.5" font-size="4.1" fill="#111" font-weight="bold" text-anchor="middle" textLength="11.2" lengthAdjust="spacingAndGlyphs">110°E</text>
<text x="185.88" y="276.5" font-size="4.1" fill="#111" font-weight="bold" text-anchor="middle" textLength="11.2" lengthAdjust="spacingAndGlyphs">115°E</text>
<text x="227.25" y="276.5" font-size="4.1" fill="#111" font-weight="bold" text-anchor="middle" textLength="11.2" lengthAdjust="spacingAndGlyphs">120°E</text>
<text x="18.6" y="158.05" font-size="4.2" fill="#111" font-weight="bold" text-anchor="end" textLength="9.0" lengthAdjust="spacingAndGlyphs">50°N</text>
<text x="18.6" y="199.28" font-size="4.2" fill="#111" font-weight="bold" text-anchor="end" textLength="9.0" lengthAdjust="spacingAndGlyphs">45°N</text>
<text x="18.6" y="240.51" font-size="4.2" fill="#111" font-weight="bold" text-anchor="end" textLength="9.0" lengthAdjust="spacingAndGlyphs">40°N</text>
<text x="131.6" y="149.8" font-size="7" text-anchor="middle">Normalized gust wind  <tspan font-style="italic">a</tspan><tspan font-size="4.6" font-style="italic" dy="1.3">d</tspan></text>
<text x="32.3" y="171.5" font-size="11.5">c</text>
<g fill="none" stroke-linejoin="round" stroke-linecap="round">
<polyline points="288.3,202.76 289.21,202.96 291.72,203.96 293.74,207.68 296.26,212.2 299.28,215.42 306.33,215.42 317.91,216.02 327.98,216.43 334.03,216.02 343.09,217.23 347.12,219.24 353.16,221.25 359.21,222.76 366.26,222.76 367.26,224.27 371.29,224.77 376.33,222.76 383.38,220.25 391.44,217.73 398.49,217.73 404.53,218.24 410.57,216.73 416.62,214.21 421.65,210.19 427.7,207.68 426.69,205.67 424.67,203.16 425.18,199.14 427.7,196.63 432.73,196.63 436.76,198.13 440.79,199.14 445.83,198.13 449.85,195.62 453.88,194.31 457.51,193.51 462.34,191.1 465.97,188.69 470.8,186.27 475.04,184.47 480.47,183.26 486.52,183.26 492.56,183.86 494.37,182.05 492.56,179.64 488.93,176.63 484.1,173.01 480.47,171.8 476.85,173.01 473.22,174.82 468.39,173.61 462.95,174.21 459.32,173.61 458.52,171.2 461.14,166.98 464.76,162.15 467.78,157.33 472.01,157.93 476.24,159.14 479.27,157.93 484.1,155.52 488.93,154.31 489.54,153.11 488.33,151.7" stroke="#a8a8a8" stroke-width="1.2"/>
<polyline points="512.1,188.59 509.78,189.39 509.48,190.6 510.29,191.4 512.1,191.7" stroke="#a8a8a8" stroke-width="1.2"/>
<polyline points="299.28,215.42 298.27,216.73 297.26,222.26 295.75,223.06 288.3,223.76" stroke="#a8a8a8" stroke-width="1.2"/>
<polyline points="306.33,215.42 307.84,218.24 310.86,223.26 310.36,226.28 312.88,229.29 315.39,233.31 317.91,233.81 321.94,231.8 327.98,230.8 331.01,231.3 331.51,233.81 327.98,236.83 325.47,238.84 327.98,239.84 332.01,241.85 336.04,243.86 339.06,246.38 343.09,248.19 346.11,245.87 348.13,244.87 353.16,244.37 357.19,243.36 362.23,242.36 364.24,244.37 362.73,246.88 359.21,250.4 357.7,253.41 360.21,255.93 365.25,258.94 367.26,258.94 372.3,258.44 376.33,256.93 377.84,254.92 377.84,251.4 378.34,248.39 380.36,245.37 382.37,243.36 384.89,242.86 386.4,244.37 386.4,247.38 384.39,249.39 383.88,251.9 386.4,253.41 389.42,254.42 392.44,255.93 395.47,257.43 398.49,257.94 401.51,256.43 403.52,252.41 405.54,249.39 409.57,246.38 413.6,243.86 417.62,243.86 420.65,242.86 421.65,241.85 425.68,240.85 428.7,238.84 430.72,237.33 433.74,235.32 437.77,234.82 441.8,234.82 444.82,235.32 444.82,232.31 444.82,228.29 445.32,225.27 446.83,223.26 448.85,222.26 451.87,223.26 453.88,224.77 457.91,223.76 461.94,222.26 466.98,221.25 470,219.24 474.03,217.23 477.05,216.73 479.06,218.24 480.07,221.25 481.08,224.27 482.59,225.77 486.11,226.28 488.63,224.27 489.14,220.25 491.15,219.24 493.16,220.25 495.18,223.26 497.19,221.25 500.22,219.24 504.24,217.73 509.28,217.23 512.1,217.03" stroke="#a8a8a8" stroke-width="1.2"/>
<polyline points="444.82,235.32 447.84,234.82 449.35,235.82 447.84,238.34 446.83,241.35 447.84,243.36 446.83,246.38 443.81,248.39 442.8,251.4 441.8,254.42 442.8,260.45 441.8,265.47 444.82,268.49 450.86,270 453.88,268.99 457.21,264.67 460.43,261.45 464.96,259.14 467.98,256.93 471.51,254.82 475.84,253.71 479.06,254.22 482.49,254.22 485.71,254.82 486.11,257.94 489.84,261.45 494.57,261.05 497.5,258.14 500.32,255.32 504.24,257.23 508.07,258.64 512.1,259.14" stroke="#a8a8a8" stroke-width="1.2"/>
<polyline points="500.32,255.32 501.32,252.41 502.23,250.4" stroke="#a8a8a8" stroke-width="1.2"/>
<polyline points="457.91,238.34 459.93,235.32 462.95,233.31 465.97,230.8 467.98,231.3 470,233.31 473.02,234.32 475.04,236.33 475.04,238.34 477.05,242.36 475.04,245.37" stroke="#a8a8a8" stroke-width="1.2"/>
<polyline points="457.91,238.34 458.92,240.35 462.95,241.35 467.98,241.35 470,243.36 468.99,246.38 471.01,249.39 474.03,251.4 477.05,253.41" stroke="#a8a8a8" stroke-width="1.2"/>
<polyline points="481.08,224.27 484.1,227.28 486.11,230.3 489.14,233.31 491.15,236.33 493.16,237.73 496.79,236.63 500.32,234.42 503.24,231.6 506.16,230.5 509.68,230.5 512.1,231.2" stroke="#a8a8a8" stroke-width="1.2"/>
<polyline points="493.16,238.34 491.15,240.35 488.13,243.36 484.1,245.37 480.07,245.37 477.05,245.37" stroke="#a8a8a8" stroke-width="1.2"/>
<polyline points="288.3,244.37 291.72,245.87 297.77,249.39 303.81,251.9 305.32,250.4 305.32,245.37 307.84,245.37 312.88,247.38 315.9,247.88 317.91,245.87 320.93,246.38 325.97,250.4 330,251.4 335.03,253.41 340.07,255.93 343.09,256.93 346.11,257.43 349.13,260.45 351.15,262.46 354.17,269.49 354.67,270.8" stroke="#a8a8a8" stroke-width="1.2"/>
<polyline points="367.26,258.94 367.26,260.45 370.29,263.46 372.8,266.48 374.31,270.8" stroke="#a8a8a8" stroke-width="1.2"/>
<polyline points="391.44,255.42 390.43,259.44 388.42,261.45 385.39,261.45 384.39,263.46 382.88,266.48 383.38,268.49 386.4,270.8" stroke="#a8a8a8" stroke-width="1.2"/>
<polyline points="388.42,261.45 393.45,263.46 397.48,265.47 399.49,267.48 401.51,270.8" stroke="#a8a8a8" stroke-width="1.2"/>
<polyline points="420.65,242.86 419.64,247.38 418.63,250.4 416.62,254.42 415.61,259.44 416.62,263.46 415.61,267.48 416.62,270.8" stroke="#a8a8a8" stroke-width="1.2"/>
<polyline points="512.1,236.83 508.98,239.94 506.16,241.85 505.65,243.36 508.07,243.76 510.89,244.77 512.1,244.97" stroke="#555" stroke-width="0.9"/>
<polyline points="504.65,247.78 507.57,246.68 510.39,245.27 512.1,244.87" stroke="#555" stroke-width="0.9"/>
<polyline points="512.1,262.46 508.07,264.87 503.24,266.78 500.32,268.69 497.5,270.1 496.49,270.8" stroke="#555" stroke-width="0.9"/>
</g>
<g>
<circle cx="305.32" cy="223.46" r="1.2" fill="#f09030"/>
<circle cx="338.06" cy="222.05" r="1.2" fill="#f05020"/>
<circle cx="294.75" cy="233.81" r="1.2" fill="#f02020"/>
<circle cx="305.02" cy="236.13" r="1.2" fill="#f0c030"/>
<circle cx="325.77" cy="235.82" r="1.2" fill="#f02020"/>
<circle cx="320.43" cy="238.34" r="1.2" fill="#f02020"/>
<circle cx="317.21" cy="240.15" r="1.2" fill="#f09030"/>
<circle cx="328.49" cy="243.36" r="1.2" fill="#f02020"/>
<circle cx="332.01" cy="245.87" r="1.2" fill="#f02020"/>
<circle cx="316.9" cy="247.88" r="1.2" fill="#f0e030"/>
<circle cx="326.78" cy="247.88" r="1.2" fill="#f02020"/>
<circle cx="338.56" cy="248.19" r="1.2" fill="#f0c030"/>
<circle cx="326.47" cy="251.2" r="1.2" fill="#f09030"/>
<circle cx="336.54" cy="250.9" r="1.2" fill="#f02020"/>
<circle cx="331.81" cy="253.21" r="1.2" fill="#f09030"/>
<circle cx="291.52" cy="255.93" r="1.2" fill="#f0c040"/>
<circle cx="307.84" cy="259.95" r="1.2" fill="#a0f060"/>
<circle cx="321.74" cy="260.65" r="1.2" fill="#f09030"/>
<circle cx="330.8" cy="260.45" r="1.2" fill="#f09030"/>
<circle cx="342.59" cy="259.95" r="1.2" fill="#f05020"/>
<circle cx="349.34" cy="227.08" r="1.2" fill="#f09030"/>
<circle cx="382.67" cy="226.78" r="1.2" fill="#f09030"/>
<circle cx="387.71" cy="228.49" r="1.2" fill="#f02020"/>
<circle cx="388.21" cy="230.3" r="1.2" fill="#f09030"/>
<circle cx="390.63" cy="232.51" r="1.2" fill="#f02020"/>
<circle cx="369.48" cy="237.13" r="1.2" fill="#f05020"/>
<circle cx="387.41" cy="235.52" r="1.2" fill="#f05020"/>
<circle cx="394.46" cy="238.14" r="1.2" fill="#f05020"/>
<circle cx="377.34" cy="240.15" r="1.2" fill="#f02020"/>
<circle cx="386.2" cy="239.84" r="1.2" fill="#f09030"/>
<circle cx="352.66" cy="243.16" r="1.2" fill="#f09030"/>
<circle cx="343.6" cy="244.87" r="1.2" fill="#f09030"/>
<circle cx="395.47" cy="245.87" r="1.2" fill="#f09030"/>
<circle cx="381.87" cy="244.87" r="1.2" fill="#f05020"/>
<circle cx="385.6" cy="244.87" r="1.2" fill="#f0e030"/>
<circle cx="382.88" cy="246.88" r="1.2" fill="#f02020"/>
<circle cx="384.69" cy="247.88" r="1.2" fill="#f09030"/>
<circle cx="376.33" cy="247.88" r="1.2" fill="#f09030"/>
<circle cx="355.18" cy="249.89" r="1.2" fill="#f09030"/>
<circle cx="347.93" cy="250.4" r="1.2" fill="#f02020"/>
<circle cx="381.37" cy="250.6" r="1.2" fill="#f0e030"/>
<circle cx="381.37" cy="253.41" r="1.2" fill="#f0e030"/>
<circle cx="380.86" cy="254.92" r="1.2" fill="#f09030"/>
<circle cx="345.61" cy="253.21" r="1.2" fill="#f09030"/>
<circle cx="391.44" cy="253.41" r="1.2" fill="#f02020"/>
<circle cx="353.16" cy="255.93" r="1.2" fill="#f09030"/>
<circle cx="389.42" cy="256.43" r="1.2" fill="#f09030"/>
<circle cx="374.31" cy="255.93" r="1.2" fill="#f02020"/>
<circle cx="392.44" cy="258.24" r="1.2" fill="#f05020"/>
<circle cx="353.67" cy="259.24" r="1.2" fill="#e0f040"/>
<circle cx="343.6" cy="259.64" r="1.2" fill="#f05020"/>
<circle cx="372.5" cy="258.64" r="1.2" fill="#f02020"/>
<circle cx="376.83" cy="259.24" r="1.2" fill="#f09030"/>
<circle cx="387.41" cy="259.24" r="1.2" fill="#f0c030"/>
<circle cx="353.16" cy="261.45" r="1.2" fill="#f09030"/>
<circle cx="363.24" cy="261.65" r="1.2" fill="#f0c030"/>
<circle cx="383.38" cy="260.65" r="1.2" fill="#f02020"/>
<circle cx="388.92" cy="261.96" r="1.2" fill="#f05020"/>
<circle cx="413.6" cy="217.23" r="1.2" fill="#e83020"/>
<circle cx="428.5" cy="208.18" r="1.2" fill="#e83020"/>
<circle cx="446.83" cy="200.14" r="1.2" fill="#e83020"/>
<circle cx="453.38" cy="205.17" r="1.2" fill="#e83020"/>
<circle cx="442.5" cy="206.68" r="1.2" fill="#f09030"/>
<circle cx="434.24" cy="215.72" r="1.2" fill="#f09030"/>
<circle cx="436.56" cy="218.74" r="1.2" fill="#f06020"/>
<circle cx="444.32" cy="220.04" r="1.2" fill="#e83020"/>
<circle cx="445.83" cy="222.76" r="1.2" fill="#f06020"/>
<circle cx="450.36" cy="223.06" r="1.2" fill="#f06020"/>
<circle cx="453.38" cy="219.74" r="1.2" fill="#f06020"/>
<circle cx="412.39" cy="223.76" r="1.2" fill="#f06020"/>
<circle cx="416.42" cy="224.47" r="1.2" fill="#e83020"/>
<circle cx="400" cy="225.27" r="1.2" fill="#f03020"/>
<circle cx="425.88" cy="225.47" r="1.2" fill="#f0a030"/>
<circle cx="422.46" cy="227.48" r="1.2" fill="#f07030"/>
<circle cx="433.74" cy="227.78" r="1.2" fill="#f0a030"/>
<circle cx="438.78" cy="226.28" r="1.2" fill="#f07030"/>
<circle cx="441.8" cy="225.07" r="1.2" fill="#f09030"/>
<circle cx="399.7" cy="229.29" r="1.2" fill="#f03020"/>
<circle cx="405.34" cy="229.79" r="1.2" fill="#f0a030"/>
<circle cx="413.39" cy="229.79" r="1.2" fill="#f0a030"/>
<circle cx="401.31" cy="232.31" r="1.2" fill="#f03020"/>
<circle cx="424.17" cy="229.29" r="1.2" fill="#f03020"/>
<circle cx="425.48" cy="231.3" r="1.2" fill="#f07030"/>
<circle cx="421.85" cy="232.31" r="1.2" fill="#f07030"/>
<circle cx="437.77" cy="229.79" r="1.2" fill="#f03020"/>
<circle cx="445.32" cy="229.29" r="1.2" fill="#f03020"/>
<circle cx="451.37" cy="228.79" r="1.2" fill="#f03020"/>
<circle cx="433.24" cy="231.3" r="1.2" fill="#f0a030"/>
<circle cx="439.28" cy="232.31" r="1.2" fill="#f03020"/>
<circle cx="443.81" cy="231.8" r="1.2" fill="#f0a030"/>
<circle cx="448.85" cy="232.31" r="1.2" fill="#f03020"/>
<circle cx="452.37" cy="232.31" r="1.2" fill="#f03020"/>
<circle cx="411.08" cy="233.81" r="1.2" fill="#f03020"/>
<circle cx="412.59" cy="235.12" r="1.2" fill="#f0a030"/>
<circle cx="416.92" cy="233.81" r="1.2" fill="#f0a030"/>
<circle cx="422.66" cy="236.33" r="1.2" fill="#f03020"/>
<circle cx="427.7" cy="235.32" r="1.2" fill="#f03020"/>
<circle cx="432.73" cy="234.12" r="1.2" fill="#f07030"/>
<circle cx="444.32" cy="234.82" r="1.2" fill="#f0a030"/>
<circle cx="446.63" cy="235.12" r="1.2" fill="#f03020"/>
<circle cx="440.79" cy="237.83" r="1.2" fill="#f07030"/>
<circle cx="446.63" cy="237.83" r="1.2" fill="#f0a030"/>
<circle cx="401.51" cy="240.15" r="1.2" fill="#f07030"/>
<circle cx="412.59" cy="239.84" r="1.2" fill="#40e0e0"/>
<circle cx="422.66" cy="239.34" r="1.2" fill="#f0a030"/>
<circle cx="433.24" cy="238.34" r="1.2" fill="#f03020"/>
<circle cx="438.27" cy="239.34" r="1.2" fill="#f03020"/>
<circle cx="442.8" cy="240.85" r="1.2" fill="#f07030"/>
<circle cx="448.34" cy="240.15" r="1.2" fill="#f07030"/>
<circle cx="450.86" cy="239.84" r="1.2" fill="#f07030"/>
<circle cx="409.77" cy="242.16" r="1.2" fill="#f03020"/>
<circle cx="424.88" cy="243.16" r="1.2" fill="#f0a030"/>
<circle cx="431.52" cy="242.16" r="1.2" fill="#f03020"/>
<circle cx="432.73" cy="243.36" r="1.2" fill="#f07030"/>
<circle cx="435.75" cy="242.16" r="1.2" fill="#f0a030"/>
<circle cx="438.78" cy="241.85" r="1.2" fill="#f07030"/>
<circle cx="447.34" cy="242.86" r="1.2" fill="#f03020"/>
<circle cx="451.37" cy="243.36" r="1.2" fill="#f03020"/>
<circle cx="404.53" cy="245.87" r="1.2" fill="#f08030"/>
<circle cx="421.65" cy="246.38" r="1.2" fill="#f08030"/>
<circle cx="427.7" cy="246.88" r="1.2" fill="#f08030"/>
<circle cx="431.22" cy="246.18" r="1.2" fill="#f08030"/>
<circle cx="436.26" cy="245.87" r="1.2" fill="#f0a030"/>
<circle cx="439.78" cy="245.17" r="1.2" fill="#f07030"/>
<circle cx="440.79" cy="247.38" r="1.2" fill="#f0a030"/>
<circle cx="445.02" cy="246.38" r="1.2" fill="#f0a030"/>
<circle cx="402.52" cy="249.39" r="1.2" fill="#f0a030"/>
<circle cx="416.42" cy="248.19" r="1.2" fill="#f0a030"/>
<circle cx="425.48" cy="249.19" r="1.2" fill="#f0a030"/>
<circle cx="421.85" cy="251.2" r="1.2" fill="#f0a030"/>
<circle cx="428.7" cy="251.6" r="1.2" fill="#f08030"/>
<circle cx="434.75" cy="248.89" r="1.2" fill="#f0a030"/>
<circle cx="437.26" cy="250.6" r="1.2" fill="#f08030"/>
<circle cx="434.75" cy="251.6" r="1.2" fill="#f0a030"/>
<circle cx="410.57" cy="252.41" r="1.2" fill="#f05020"/>
<circle cx="425.48" cy="252.41" r="1.2" fill="#f08030"/>
<circle cx="447.84" cy="249.39" r="1.2" fill="#f0a030"/>
<circle cx="450.86" cy="248.89" r="1.2" fill="#f0a030"/>
<circle cx="405.54" cy="254.92" r="1.2" fill="#f08030"/>
<circle cx="416.62" cy="254.42" r="1.2" fill="#f08030"/>
<circle cx="420.14" cy="254.92" r="1.2" fill="#f08030"/>
<circle cx="423.16" cy="255.93" r="1.2" fill="#f0d030"/>
<circle cx="427.5" cy="254.22" r="1.2" fill="#f05020"/>
<circle cx="430.72" cy="255.42" r="1.2" fill="#f0a030"/>
<circle cx="433.74" cy="254.42" r="1.2" fill="#f0a030"/>
<circle cx="438.78" cy="255.42" r="1.2" fill="#f08030"/>
<circle cx="440.79" cy="253.91" r="1.2" fill="#f05020"/>
<circle cx="448.34" cy="252.41" r="1.2" fill="#f0e030"/>
<circle cx="450.86" cy="253.41" r="1.2" fill="#f05020"/>
<circle cx="452.88" cy="252.41" r="1.2" fill="#f0a030"/>
<circle cx="450.36" cy="255.93" r="1.2" fill="#f0d030"/>
<circle cx="446.83" cy="256.43" r="1.2" fill="#f0d030"/>
<circle cx="402.52" cy="257.43" r="1.2" fill="#f08030"/>
<circle cx="413.39" cy="257.43" r="1.2" fill="#f0a030"/>
<circle cx="426.69" cy="257.94" r="1.2" fill="#f0a030"/>
<circle cx="431.22" cy="257.63" r="1.2" fill="#f08030"/>
<circle cx="433.54" cy="256.93" r="1.2" fill="#f0a030"/>
<circle cx="442.8" cy="256.93" r="1.2" fill="#f08030"/>
<circle cx="418.63" cy="259.44" r="1.2" fill="#f05020"/>
<circle cx="422.16" cy="260.25" r="1.2" fill="#f05020"/>
<circle cx="429.71" cy="260.45" r="1.2" fill="#f08030"/>
<circle cx="433.74" cy="259.95" r="1.2" fill="#f0a030"/>
<circle cx="437.77" cy="259.44" r="1.2" fill="#f08030"/>
<circle cx="445.83" cy="259.95" r="1.2" fill="#f0a030"/>
<circle cx="449.85" cy="258.94" r="1.2" fill="#f0e030"/>
<circle cx="409.57" cy="261.45" r="1.2" fill="#f0d030"/>
<circle cx="413.6" cy="262.46" r="1.2" fill="#f05020"/>
<circle cx="427.19" cy="261.65" r="1.2" fill="#f08030"/>
<circle cx="430.72" cy="262.26" r="1.2" fill="#f05020"/>
<circle cx="448.85" cy="261.96" r="1.2" fill="#f08030"/>
<circle cx="451.87" cy="260.95" r="1.2" fill="#f05020"/>
<circle cx="437.26" cy="262.46" r="1.2" fill="#f0a030"/>
<circle cx="439.78" cy="262.46" r="1.2" fill="#f08030"/>
<circle cx="451.37" cy="262.46" r="1.2" fill="#f08030"/>
<circle cx="428.7" cy="262.66" r="1.2" fill="#f08030"/>
<circle cx="470" cy="192.91" r="1.2" fill="#f06020"/>
<circle cx="485.61" cy="191.1" r="1.2" fill="#e83020"/>
<circle cx="492.16" cy="192.3" r="1.2" fill="#e83020"/>
<circle cx="475.54" cy="200.35" r="1.2" fill="#e83020"/>
<circle cx="489.34" cy="201.65" r="1.2" fill="#e83020"/>
<circle cx="489.64" cy="205.67" r="1.2" fill="#f06020"/>
<circle cx="463.15" cy="205.67" r="1.2" fill="#e83020"/>
<circle cx="479.06" cy="208.18" r="1.2" fill="#f06020"/>
<circle cx="483.9" cy="208.99" r="1.2" fill="#f09030"/>
<circle cx="474.83" cy="211.4" r="1.2" fill="#e83020"/>
<circle cx="487.12" cy="214.21" r="1.2" fill="#e83020"/>
<circle cx="482.09" cy="217.03" r="1.2" fill="#e83020"/>
<circle cx="485.31" cy="219.24" r="1.2" fill="#e83020"/>
<circle cx="494.68" cy="219.44" r="1.2" fill="#f06020"/>
<circle cx="492.66" cy="222.76" r="1.2" fill="#f09030"/>
<circle cx="462.14" cy="220.04" r="1.2" fill="#e83020"/>
<circle cx="465.97" cy="220.25" r="1.2" fill="#e83020"/>
<circle cx="455.9" cy="222.76" r="1.2" fill="#e83020"/>
<circle cx="458.92" cy="224.47" r="1.2" fill="#f09030"/>
<circle cx="476.85" cy="222.05" r="1.2" fill="#e83020"/>
<circle cx="484.3" cy="222.26" r="1.2" fill="#f09030"/>
<circle cx="484.91" cy="225.77" r="1.2" fill="#f0a030"/>
<circle cx="476.55" cy="227.28" r="1.2" fill="#f07030"/>
<circle cx="466.98" cy="228.29" r="1.2" fill="#f07030"/>
<circle cx="492.16" cy="226.78" r="1.2" fill="#f03020"/>
<circle cx="489.64" cy="228.29" r="1.2" fill="#f03020"/>
<circle cx="473.02" cy="230.5" r="1.2" fill="#c01010"/>
<circle cx="478.06" cy="230.3" r="1.2" fill="#e82020"/>
<circle cx="484.1" cy="230.09" r="1.2" fill="#f07030"/>
<circle cx="493.16" cy="229.29" r="1.2" fill="#f0a030"/>
<circle cx="493.16" cy="231.8" r="1.2" fill="#f07030"/>
<circle cx="455.9" cy="230.5" r="1.2" fill="#f06020"/>
<circle cx="460.73" cy="231.5" r="1.2" fill="#c01010"/>
<circle cx="464.76" cy="232.51" r="1.2" fill="#c01010"/>
<circle cx="471.51" cy="233.11" r="1.2" fill="#c01010"/>
<circle cx="480.27" cy="232.11" r="1.2" fill="#c01010"/>
<circle cx="482.29" cy="233.51" r="1.2" fill="#e82020"/>
<circle cx="486.11" cy="234.82" r="1.2" fill="#f0a030"/>
<circle cx="455.39" cy="235.32" r="1.2" fill="#c01010"/>
<circle cx="461.44" cy="234.82" r="1.2" fill="#c01010"/>
<circle cx="466.47" cy="235.32" r="1.2" fill="#e82020"/>
<circle cx="468.99" cy="235.32" r="1.2" fill="#c01010"/>
<circle cx="474.53" cy="235.12" r="1.2" fill="#e82020"/>
<circle cx="478.06" cy="236.53" r="1.2" fill="#c01010"/>
<circle cx="481.08" cy="237.13" r="1.2" fill="#f06020"/>
<circle cx="484.1" cy="238.34" r="1.2" fill="#f0a030"/>
<circle cx="488.63" cy="239.34" r="1.2" fill="#f0a030"/>
<circle cx="490.65" cy="239.84" r="1.2" fill="#f0a030"/>
<circle cx="459.93" cy="238.34" r="1.2" fill="#c01010"/>
<circle cx="463.96" cy="239.34" r="1.2" fill="#c01010"/>
<circle cx="465.47" cy="240.35" r="1.2" fill="#c01010"/>
<circle cx="467.98" cy="239.34" r="1.2" fill="#f06020"/>
<circle cx="470.5" cy="239.34" r="1.2" fill="#e82020"/>
<circle cx="474.03" cy="237.83" r="1.2" fill="#c01010"/>
<circle cx="472.52" cy="240.85" r="1.2" fill="#c01010"/>
<circle cx="479.57" cy="240.35" r="1.2" fill="#c01010"/>
<circle cx="483.09" cy="241.35" r="1.2" fill="#c01010"/>
<circle cx="486.11" cy="242.86" r="1.2" fill="#f0a030"/>
<circle cx="477.05" cy="243.36" r="1.2" fill="#f06020"/>
<circle cx="458.42" cy="243.86" r="1.2" fill="#e82020"/>
<circle cx="462.45" cy="243.36" r="1.2" fill="#e82020"/>
<circle cx="465.97" cy="244.37" r="1.2" fill="#c01010"/>
<circle cx="468.99" cy="244.37" r="1.2" fill="#e82020"/>
<circle cx="470.5" cy="245.87" r="1.2" fill="#c01010"/>
<circle cx="474.03" cy="246.58" r="1.2" fill="#e82020"/>
<circle cx="455.39" cy="247.18" r="1.2" fill="#c01010"/>
<circle cx="459.93" cy="246.38" r="1.2" fill="#f06020"/>
<circle cx="463.45" cy="246.88" r="1.2" fill="#c01010"/>
<circle cx="466.98" cy="247.38" r="1.2" fill="#e82020"/>
<circle cx="453.88" cy="249.39" r="1.2" fill="#f0a030"/>
<circle cx="456.91" cy="249.39" r="1.2" fill="#e82020"/>
<circle cx="460.93" cy="249.89" r="1.2" fill="#e82020"/>
<circle cx="464.96" cy="249.89" r="1.2" fill="#c01010"/>
<circle cx="468.99" cy="250.9" r="1.2" fill="#e82020"/>
<circle cx="473.02" cy="251.2" r="1.2" fill="#f06020"/>
<circle cx="481.88" cy="251.4" r="1.2" fill="#f0a030"/>
<circle cx="455.39" cy="252.41" r="1.2" fill="#f0d030"/>
<circle cx="459.42" cy="252.21" r="1.2" fill="#f05020"/>
<circle cx="462.45" cy="252.41" r="1.2" fill="#f08030"/>
<circle cx="466.98" cy="254.42" r="1.2" fill="#f0a030"/>
<circle cx="472.01" cy="254.42" r="1.2" fill="#f08030"/>
<circle cx="474.03" cy="253.91" r="1.2" fill="#f0a030"/>
<circle cx="454.89" cy="254.92" r="1.2" fill="#f0a030"/>
<circle cx="458.92" cy="255.42" r="1.2" fill="#f05020"/>
<circle cx="463.96" cy="255.93" r="1.2" fill="#f08030"/>
<circle cx="483.09" cy="255.42" r="1.2" fill="#f0d030"/>
<circle cx="475.04" cy="257.43" r="1.2" fill="#f08030"/>
<circle cx="479.57" cy="257.43" r="1.2" fill="#f08030"/>
<circle cx="483.6" cy="258.44" r="1.2" fill="#f08030"/>
<circle cx="455.9" cy="258.94" r="1.2" fill="#f08030"/>
<circle cx="459.93" cy="258.44" r="1.2" fill="#f0d030"/>
<circle cx="464.96" cy="258.44" r="1.2" fill="#f05020"/>
<circle cx="468.49" cy="257.43" r="1.2" fill="#f0d030"/>
<circle cx="471.01" cy="259.95" r="1.2" fill="#f08030"/>
<circle cx="465.97" cy="260.95" r="1.2" fill="#f0a030"/>
<circle cx="477.55" cy="261.45" r="1.2" fill="#f05020"/>
<circle cx="481.58" cy="260.45" r="1.2" fill="#f05020"/>
<circle cx="494.68" cy="260.95" r="1.2" fill="#f0e030"/>
<circle cx="454.89" cy="262.46" r="1.2" fill="#f0d030"/>
<circle cx="459.93" cy="261.96" r="1.2" fill="#f05020"/>
<circle cx="472.01" cy="262.96" r="1.2" fill="#f0a030"/>
<circle cx="480.07" cy="262.96" r="1.2" fill="#d0f040"/>
<circle cx="449.55" cy="254.92" r="1.2" fill="#f0a030"/>
<circle cx="451.77" cy="255.62" r="1.2" fill="#f05020"/>
<circle cx="449.25" cy="257.23" r="1.2" fill="#f0a030"/>
<circle cx="451.37" cy="258.04" r="1.2" fill="#f0a030"/>
<circle cx="448.44" cy="258.74" r="1.2" fill="#f0d030"/>
<circle cx="450.16" cy="260.05" r="1.2" fill="#f0a030"/>
<circle cx="454.69" cy="253.81" r="1.2" fill="#f05020"/>
<circle cx="452.47" cy="251" r="1.2" fill="#f08030"/>
<circle cx="454.39" cy="247.38" r="1.2" fill="#e82020"/>
<circle cx="447.34" cy="254.22" r="1.2" fill="#f05020"/>
</g>
<rect x="288.3" y="151.7" width="223.8" height="119.1" fill="none" stroke="#cccccc" stroke-width="1.4"/>
<rect x="525.7" y="155" width="2.9" height="112.4" fill="url(#g_jet)"/>
<text x="530.1" y="269.7" font-size="6">0.5</text>
<text x="530.1" y="247.22" font-size="6">0.6</text>
<text x="530.1" y="224.74" font-size="6">0.7</text>
<text x="530.1" y="202.26" font-size="6">0.8</text>
<text x="530.1" y="179.78" font-size="6">0.9</text>
<text x="530.1" y="157.3" font-size="6">1.0</text>
<text x="288.5" y="276.1" font-size="4.1" fill="#111" font-weight="bold" text-anchor="middle" textLength="9.0" lengthAdjust="spacingAndGlyphs">95°E</text>
<text x="329.94" y="276.1" font-size="4.1" fill="#111" font-weight="bold" text-anchor="middle" textLength="11.2" lengthAdjust="spacingAndGlyphs">100°E</text>
<text x="371.39" y="276.1" font-size="4.1" fill="#111" font-weight="bold" text-anchor="middle" textLength="11.2" lengthAdjust="spacingAndGlyphs">105°E</text>
<text x="412.83" y="276.1" font-size="4.1" fill="#111" font-weight="bold" text-anchor="middle" textLength="11.2" lengthAdjust="spacingAndGlyphs">110°E</text>
<text x="454.28" y="276.1" font-size="4.1" fill="#111" font-weight="bold" text-anchor="middle" textLength="11.2" lengthAdjust="spacingAndGlyphs">115°E</text>
<text x="495.72" y="276.1" font-size="4.1" fill="#111" font-weight="bold" text-anchor="middle" textLength="11.2" lengthAdjust="spacingAndGlyphs">120°E</text>
<text x="286.7" y="157.46" font-size="4.2" fill="#111" font-weight="bold" text-anchor="end" textLength="9.0" lengthAdjust="spacingAndGlyphs">50°N</text>
<text x="286.7" y="198.76" font-size="4.2" fill="#111" font-weight="bold" text-anchor="end" textLength="9.0" lengthAdjust="spacingAndGlyphs">45°N</text>
<text x="286.7" y="240.05" font-size="4.2" fill="#111" font-weight="bold" text-anchor="end" textLength="9.0" lengthAdjust="spacingAndGlyphs">40°N</text>
<text x="399.5" y="149.4" font-size="7" text-anchor="middle">R between std and max-meanwind</text>
<text x="300.9" y="168.1" font-size="11.5">d</text>
<g fill="none" stroke-linejoin="round" stroke-linecap="round">
<polyline points="20.1,337.97 21.01,338.17 23.52,339.17 25.53,342.86 28.05,347.35 31.07,350.54 38.11,350.54 49.69,351.14 59.75,351.54 65.79,351.14 74.84,352.33 78.87,354.33 84.91,356.32 90.94,357.82 97.99,357.82 98.99,359.32 103.02,359.82 108.05,357.82 115.09,355.33 123.15,352.83 130.19,352.83 136.23,353.33 142.26,351.84 148.3,349.34 153.33,345.35 159.37,342.86 158.37,340.86 156.35,338.37 156.86,334.38 159.37,331.89 164.4,331.89 168.43,333.38 172.45,334.38 177.49,333.38 181.51,330.89 185.54,329.59 189.16,328.79 193.99,326.4 197.61,324.01 202.44,321.61 206.67,319.82 212.1,318.62 218.14,318.62 224.18,319.22 225.99,317.42 224.18,315.03 220.56,312.04 215.72,308.45 212.1,307.25 208.48,308.45 204.86,310.24 200.03,309.04 194.59,309.64 190.97,309.04 190.16,306.65 192.78,302.46 196.4,297.67 199.42,292.89 203.65,293.48 207.88,294.68 210.89,293.48 215.72,291.09 220.56,289.89 221.16,288.7 219.95,287.3" stroke="#a8a8a8" stroke-width="1.2"/>
<polyline points="243.7,323.91 241.39,324.71 241.08,325.9 241.89,326.7 243.7,327" stroke="#a8a8a8" stroke-width="1.2"/>
<polyline points="31.07,350.54 30.06,351.84 29.06,357.32 27.55,358.12 20.1,358.82" stroke="#a8a8a8" stroke-width="1.2"/>
<polyline points="38.11,350.54 39.62,353.33 42.64,358.32 42.14,361.31 44.65,364.3 47.17,368.29 49.69,368.79 53.71,366.8 59.75,365.8 62.77,366.3 63.27,368.79 59.75,371.79 57.23,373.78 59.75,374.78 63.77,376.77 67.8,378.77 70.82,381.26 74.84,383.06 77.86,380.76 79.87,379.77 84.91,379.27 88.93,378.27 93.96,377.27 95.98,379.27 94.47,381.76 90.94,385.25 89.43,388.24 91.95,390.74 96.98,393.73 98.99,393.73 104.03,393.23 108.05,391.73 109.56,389.74 109.56,386.25 110.06,383.26 112.08,380.26 114.09,378.27 116.6,377.77 118.11,379.27 118.11,382.26 116.1,384.25 115.6,386.75 118.11,388.24 121.13,389.24 124.15,390.74 127.17,392.23 130.19,392.73 133.21,391.24 135.22,387.25 137.23,384.25 141.26,381.26 145.28,378.77 149.31,378.77 152.33,377.77 153.33,376.77 157.36,375.78 160.38,373.78 162.39,372.28 165.41,370.29 169.44,369.79 173.46,369.79 176.48,370.29 176.48,367.3 176.48,363.31 176.98,360.31 178.49,358.32 180.5,357.32 183.52,358.32 185.54,359.82 189.56,358.82 193.59,357.32 198.62,356.32 201.64,354.33 205.66,352.33 208.68,351.84 210.69,353.33 211.7,356.32 212.71,359.32 214.22,360.81 217.74,361.31 220.25,359.32 220.76,355.33 222.77,354.33 224.78,355.33 226.79,358.32 228.81,356.32 231.83,354.33 235.85,352.83 240.88,352.33 243.7,352.14" stroke="#a8a8a8" stroke-width="1.2"/>
<polyline points="176.48,370.29 179.5,369.79 181.01,370.79 179.5,373.28 178.49,376.27 179.5,378.27 178.49,381.26 175.47,383.26 174.47,386.25 173.46,389.24 174.47,395.23 173.46,400.21 176.48,403.21 182.52,404.7 185.54,403.7 188.86,399.42 192.08,396.22 196.61,393.93 199.62,391.73 203.15,389.64 207.47,388.54 210.69,389.04 214.11,389.04 217.33,389.64 217.74,392.73 221.46,396.22 226.19,395.82 229.11,392.93 231.93,390.14 235.85,392.03 239.67,393.43 243.7,393.93" stroke="#a8a8a8" stroke-width="1.2"/>
<polyline points="231.93,390.14 232.93,387.25 233.84,385.25" stroke="#a8a8a8" stroke-width="1.2"/>
<polyline points="189.56,373.28 191.57,370.29 194.59,368.29 197.61,365.8 199.62,366.3 201.64,368.29 204.66,369.29 206.67,371.29 206.67,373.28 208.68,377.27 206.67,380.26" stroke="#a8a8a8" stroke-width="1.2"/>
<polyline points="189.56,373.28 190.57,375.28 194.59,376.27 199.62,376.27 201.64,378.27 200.63,381.26 202.64,384.25 205.66,386.25 208.68,388.24" stroke="#a8a8a8" stroke-width="1.2"/>
<polyline points="212.71,359.32 215.72,362.31 217.74,365.3 220.76,368.29 222.77,371.29 224.78,372.68 228.4,371.59 231.93,369.39 234.84,366.6 237.76,365.5 241.28,365.5 243.7,366.2" stroke="#a8a8a8" stroke-width="1.2"/>
<polyline points="224.78,373.28 222.77,375.28 219.75,378.27 215.72,380.26 211.7,380.26 208.68,380.26" stroke="#a8a8a8" stroke-width="1.2"/>
<polyline points="20.1,379.27 23.52,380.76 29.56,384.25 35.6,386.75 37.11,385.25 37.11,380.26 39.62,380.26 44.65,382.26 47.67,382.76 49.69,380.76 52.7,381.26 57.74,385.25 61.76,386.25 66.79,388.24 71.82,390.74 74.84,391.73 77.86,392.23 80.88,395.23 82.89,397.22 85.91,404.2 86.42,405.5" stroke="#a8a8a8" stroke-width="1.2"/>
<polyline points="98.99,393.73 98.99,395.23 102.01,398.22 104.53,401.21 106.04,405.5" stroke="#a8a8a8" stroke-width="1.2"/>
<polyline points="123.15,390.24 122.14,394.23 120.13,396.22 117.11,396.22 116.1,398.22 114.59,401.21 115.09,403.21 118.11,405.5" stroke="#a8a8a8" stroke-width="1.2"/>
<polyline points="120.13,396.22 125.16,398.22 129.18,400.21 131.2,402.21 133.21,405.5" stroke="#a8a8a8" stroke-width="1.2"/>
<polyline points="152.33,377.77 151.32,382.26 150.32,385.25 148.3,389.24 147.3,394.23 148.3,398.22 147.3,402.21 148.3,405.5" stroke="#a8a8a8" stroke-width="1.2"/>
<polyline points="243.7,371.79 240.58,374.88 237.76,376.77 237.26,378.27 239.67,378.67 242.49,379.67 243.7,379.87" stroke="#555" stroke-width="0.9"/>
<polyline points="236.25,382.66 239.17,381.56 241.99,380.16 243.7,379.77" stroke="#555" stroke-width="0.9"/>
<polyline points="243.7,397.22 239.67,399.61 234.84,401.51 231.93,403.41 229.11,404.8 228.1,405.5" stroke="#555" stroke-width="0.9"/>
</g>
<g>
<circle cx="37.11" cy="358.52" r="1.2" fill="#50d040"/>
<circle cx="69.81" cy="357.12" r="1.2" fill="#a08040"/>
<circle cx="26.54" cy="368.79" r="1.2" fill="#60c040"/>
<circle cx="36.8" cy="371.09" r="1.2" fill="#50d040"/>
<circle cx="57.53" cy="370.79" r="1.2" fill="#50d040"/>
<circle cx="52.2" cy="373.28" r="1.2" fill="#80b040"/>
<circle cx="48.98" cy="375.08" r="1.2" fill="#c08040"/>
<circle cx="60.25" cy="378.27" r="1.2" fill="#90a040"/>
<circle cx="63.77" cy="380.76" r="1.2" fill="#a09040"/>
<circle cx="48.68" cy="382.76" r="1.2" fill="#50c840"/>
<circle cx="58.54" cy="382.76" r="1.2" fill="#90a040"/>
<circle cx="70.31" cy="383.06" r="1.2" fill="#b08040"/>
<circle cx="58.24" cy="386.05" r="1.2" fill="#e04040"/>
<circle cx="68.3" cy="385.75" r="1.2" fill="#50d040"/>
<circle cx="63.57" cy="388.04" r="1.2" fill="#c06040"/>
<circle cx="23.32" cy="390.74" r="1.2" fill="#80b040"/>
<circle cx="39.62" cy="394.73" r="1.2" fill="#90a040"/>
<circle cx="53.51" cy="395.43" r="1.2" fill="#50d040"/>
<circle cx="62.57" cy="395.23" r="1.2" fill="#50d040"/>
<circle cx="74.34" cy="394.73" r="1.2" fill="#90a040"/>
<circle cx="81.08" cy="362.11" r="1.2" fill="#50e040"/>
<circle cx="114.39" cy="361.81" r="1.2" fill="#50d040"/>
<circle cx="119.42" cy="363.51" r="1.2" fill="#c08040"/>
<circle cx="119.93" cy="365.3" r="1.2" fill="#50c840"/>
<circle cx="122.34" cy="367.5" r="1.2" fill="#c08040"/>
<circle cx="101.21" cy="372.08" r="1.2" fill="#50d040"/>
<circle cx="119.12" cy="370.49" r="1.2" fill="#90a040"/>
<circle cx="126.16" cy="373.08" r="1.2" fill="#50d040"/>
<circle cx="109.06" cy="375.08" r="1.2" fill="#50d040"/>
<circle cx="117.91" cy="374.78" r="1.2" fill="#90a040"/>
<circle cx="84.4" cy="378.07" r="1.2" fill="#50d040"/>
<circle cx="75.35" cy="379.77" r="1.2" fill="#b08040"/>
<circle cx="127.17" cy="380.76" r="1.2" fill="#50d040"/>
<circle cx="113.59" cy="379.77" r="1.2" fill="#50c840"/>
<circle cx="117.31" cy="379.77" r="1.2" fill="#50d040"/>
<circle cx="114.59" cy="381.76" r="1.2" fill="#e04040"/>
<circle cx="116.4" cy="382.76" r="1.2" fill="#50d040"/>
<circle cx="108.05" cy="382.76" r="1.2" fill="#c08040"/>
<circle cx="86.92" cy="384.75" r="1.2" fill="#a09040"/>
<circle cx="79.67" cy="385.25" r="1.2" fill="#e05040"/>
<circle cx="113.08" cy="385.45" r="1.2" fill="#90a040"/>
<circle cx="113.08" cy="388.24" r="1.2" fill="#50d040"/>
<circle cx="112.58" cy="389.74" r="1.2" fill="#50c840"/>
<circle cx="77.36" cy="388.04" r="1.2" fill="#50d040"/>
<circle cx="123.15" cy="388.24" r="1.2" fill="#50d040"/>
<circle cx="84.91" cy="390.74" r="1.2" fill="#90a040"/>
<circle cx="121.13" cy="391.24" r="1.2" fill="#90a040"/>
<circle cx="106.04" cy="390.74" r="1.2" fill="#50c840"/>
<circle cx="124.15" cy="393.03" r="1.2" fill="#50d040"/>
<circle cx="85.41" cy="394.03" r="1.2" fill="#50d040"/>
<circle cx="75.35" cy="394.43" r="1.2" fill="#50c840"/>
<circle cx="104.23" cy="393.43" r="1.2" fill="#80b040"/>
<circle cx="108.55" cy="394.03" r="1.2" fill="#90a040"/>
<circle cx="119.12" cy="394.03" r="1.2" fill="#50c840"/>
<circle cx="84.91" cy="396.22" r="1.2" fill="#40f040"/>
<circle cx="94.97" cy="396.42" r="1.2" fill="#c06040"/>
<circle cx="115.09" cy="395.43" r="1.2" fill="#c08040"/>
<circle cx="120.63" cy="396.72" r="1.2" fill="#50d040"/>
<circle cx="145.28" cy="352.33" r="1.2" fill="#90a040"/>
<circle cx="160.18" cy="343.36" r="1.2" fill="#90a040"/>
<circle cx="178.49" cy="335.38" r="1.2" fill="#c08040"/>
<circle cx="185.03" cy="340.37" r="1.2" fill="#90a040"/>
<circle cx="174.16" cy="341.86" r="1.2" fill="#90a040"/>
<circle cx="165.91" cy="350.84" r="1.2" fill="#c08040"/>
<circle cx="168.23" cy="353.83" r="1.2" fill="#c08040"/>
<circle cx="175.98" cy="355.13" r="1.2" fill="#90a040"/>
<circle cx="177.49" cy="357.82" r="1.2" fill="#90a040"/>
<circle cx="182.01" cy="358.12" r="1.2" fill="#50c040"/>
<circle cx="185.03" cy="354.83" r="1.2" fill="#50c040"/>
<circle cx="144.08" cy="358.82" r="1.2" fill="#98a048"/>
<circle cx="148.1" cy="359.52" r="1.2" fill="#98a048"/>
<circle cx="131.7" cy="360.31" r="1.2" fill="#c07848"/>
<circle cx="157.56" cy="360.51" r="1.2" fill="#e04848"/>
<circle cx="154.14" cy="362.51" r="1.2" fill="#98a048"/>
<circle cx="165.41" cy="362.81" r="1.2" fill="#60c040"/>
<circle cx="170.44" cy="361.31" r="1.2" fill="#c07848"/>
<circle cx="173.46" cy="360.12" r="1.2" fill="#98a048"/>
<circle cx="131.4" cy="364.3" r="1.2" fill="#98a048"/>
<circle cx="137.03" cy="364.8" r="1.2" fill="#98a048"/>
<circle cx="145.08" cy="364.8" r="1.2" fill="#60c040"/>
<circle cx="133.01" cy="367.3" r="1.2" fill="#98a048"/>
<circle cx="155.85" cy="364.3" r="1.2" fill="#98a048"/>
<circle cx="157.16" cy="366.3" r="1.2" fill="#98a048"/>
<circle cx="153.54" cy="367.3" r="1.2" fill="#98a048"/>
<circle cx="169.44" cy="364.8" r="1.2" fill="#98a048"/>
<circle cx="176.98" cy="364.3" r="1.2" fill="#98a048"/>
<circle cx="183.02" cy="363.81" r="1.2" fill="#98a048"/>
<circle cx="164.91" cy="366.3" r="1.2" fill="#98a048"/>
<circle cx="170.94" cy="367.3" r="1.2" fill="#c07848"/>
<circle cx="175.47" cy="366.8" r="1.2" fill="#98a048"/>
<circle cx="180.5" cy="367.3" r="1.2" fill="#98a048"/>
<circle cx="184.03" cy="367.3" r="1.2" fill="#98a048"/>
<circle cx="142.77" cy="368.79" r="1.2" fill="#98a048"/>
<circle cx="144.28" cy="370.09" r="1.2" fill="#c07848"/>
<circle cx="148.6" cy="368.79" r="1.2" fill="#98a048"/>
<circle cx="154.34" cy="371.29" r="1.2" fill="#60c040"/>
<circle cx="159.37" cy="370.29" r="1.2" fill="#c07848"/>
<circle cx="164.4" cy="369.09" r="1.2" fill="#e04848"/>
<circle cx="175.98" cy="369.79" r="1.2" fill="#60c040"/>
<circle cx="178.29" cy="370.09" r="1.2" fill="#e04848"/>
<circle cx="172.45" cy="372.78" r="1.2" fill="#c07848"/>
<circle cx="178.29" cy="372.78" r="1.2" fill="#98a048"/>
<circle cx="133.21" cy="375.08" r="1.2" fill="#98a048"/>
<circle cx="144.28" cy="374.78" r="1.2" fill="#98a048"/>
<circle cx="154.34" cy="374.28" r="1.2" fill="#c07848"/>
<circle cx="164.91" cy="373.28" r="1.2" fill="#98a048"/>
<circle cx="169.94" cy="374.28" r="1.2" fill="#e04848"/>
<circle cx="174.47" cy="375.78" r="1.2" fill="#e04848"/>
<circle cx="180" cy="375.08" r="1.2" fill="#e04848"/>
<circle cx="182.52" cy="374.78" r="1.2" fill="#60c040"/>
<circle cx="141.46" cy="377.07" r="1.2" fill="#98a048"/>
<circle cx="156.55" cy="378.07" r="1.2" fill="#98a048"/>
<circle cx="163.2" cy="377.07" r="1.2" fill="#98a048"/>
<circle cx="164.4" cy="378.27" r="1.2" fill="#c07848"/>
<circle cx="167.42" cy="377.07" r="1.2" fill="#c07848"/>
<circle cx="170.44" cy="376.77" r="1.2" fill="#e04848"/>
<circle cx="178.99" cy="377.77" r="1.2" fill="#c07848"/>
<circle cx="183.02" cy="378.27" r="1.2" fill="#e04848"/>
<circle cx="136.23" cy="380.76" r="1.2" fill="#c07848"/>
<circle cx="153.33" cy="381.26" r="1.2" fill="#60c040"/>
<circle cx="159.37" cy="381.76" r="1.2" fill="#e04848"/>
<circle cx="162.89" cy="381.06" r="1.2" fill="#98a048"/>
<circle cx="167.93" cy="380.76" r="1.2" fill="#c07848"/>
<circle cx="171.45" cy="380.06" r="1.2" fill="#c07848"/>
<circle cx="172.45" cy="382.26" r="1.2" fill="#e04848"/>
<circle cx="176.68" cy="381.26" r="1.2" fill="#98a048"/>
<circle cx="134.21" cy="384.25" r="1.2" fill="#98a048"/>
<circle cx="148.1" cy="383.06" r="1.2" fill="#e04848"/>
<circle cx="157.16" cy="384.05" r="1.2" fill="#98a048"/>
<circle cx="153.54" cy="386.05" r="1.2" fill="#60c040"/>
<circle cx="160.38" cy="386.45" r="1.2" fill="#c07848"/>
<circle cx="166.42" cy="383.76" r="1.2" fill="#60c040"/>
<circle cx="168.93" cy="385.45" r="1.2" fill="#e04848"/>
<circle cx="166.42" cy="386.45" r="1.2" fill="#e04848"/>
<circle cx="142.26" cy="387.25" r="1.2" fill="#98a048"/>
<circle cx="157.16" cy="387.25" r="1.2" fill="#98a048"/>
<circle cx="179.5" cy="384.25" r="1.2" fill="#e04848"/>
<circle cx="182.52" cy="383.76" r="1.2" fill="#60c040"/>
<circle cx="137.23" cy="389.74" r="1.2" fill="#98a048"/>
<circle cx="148.3" cy="389.24" r="1.2" fill="#98a048"/>
<circle cx="151.82" cy="389.74" r="1.2" fill="#98a048"/>
<circle cx="154.84" cy="390.74" r="1.2" fill="#60c040"/>
<circle cx="159.17" cy="389.04" r="1.2" fill="#98a048"/>
<circle cx="162.39" cy="390.24" r="1.2" fill="#60c040"/>
<circle cx="165.41" cy="389.24" r="1.2" fill="#e04848"/>
<circle cx="170.44" cy="390.24" r="1.2" fill="#60c040"/>
<circle cx="172.45" cy="388.74" r="1.2" fill="#e04848"/>
<circle cx="180" cy="387.25" r="1.2" fill="#98a048"/>
<circle cx="182.52" cy="388.24" r="1.2" fill="#c07848"/>
<circle cx="184.53" cy="387.25" r="1.2" fill="#c07848"/>
<circle cx="182.01" cy="390.74" r="1.2" fill="#e04848"/>
<circle cx="178.49" cy="391.24" r="1.2" fill="#98a048"/>
<circle cx="134.21" cy="392.23" r="1.2" fill="#60c040"/>
<circle cx="145.08" cy="392.23" r="1.2" fill="#60c040"/>
<circle cx="158.37" cy="392.73" r="1.2" fill="#60c040"/>
<circle cx="162.89" cy="392.43" r="1.2" fill="#60c040"/>
<circle cx="165.21" cy="391.73" r="1.2" fill="#98a048"/>
<circle cx="174.47" cy="391.73" r="1.2" fill="#e04848"/>
<circle cx="150.32" cy="394.23" r="1.2" fill="#e04848"/>
<circle cx="153.84" cy="395.03" r="1.2" fill="#c07848"/>
<circle cx="161.38" cy="395.23" r="1.2" fill="#e04848"/>
<circle cx="165.41" cy="394.73" r="1.2" fill="#60c040"/>
<circle cx="169.44" cy="394.23" r="1.2" fill="#98a048"/>
<circle cx="177.49" cy="394.73" r="1.2" fill="#c07848"/>
<circle cx="181.51" cy="393.73" r="1.2" fill="#98a048"/>
<circle cx="141.26" cy="396.22" r="1.2" fill="#c07848"/>
<circle cx="145.28" cy="397.22" r="1.2" fill="#c07848"/>
<circle cx="158.87" cy="396.42" r="1.2" fill="#98a048"/>
<circle cx="162.39" cy="397.02" r="1.2" fill="#98a048"/>
<circle cx="180.5" cy="396.72" r="1.2" fill="#98a048"/>
<circle cx="183.52" cy="395.72" r="1.2" fill="#98a048"/>
<circle cx="168.93" cy="397.22" r="1.2" fill="#e04848"/>
<circle cx="171.45" cy="397.22" r="1.2" fill="#98a048"/>
<circle cx="183.02" cy="397.22" r="1.2" fill="#e04848"/>
<circle cx="160.38" cy="397.42" r="1.2" fill="#98a048"/>
<circle cx="201.64" cy="328.2" r="1.2" fill="#90a040"/>
<circle cx="217.23" cy="326.4" r="1.2" fill="#90a040"/>
<circle cx="223.78" cy="327.6" r="1.2" fill="#90a040"/>
<circle cx="207.17" cy="335.58" r="1.2" fill="#c08040"/>
<circle cx="220.96" cy="336.87" r="1.2" fill="#90a040"/>
<circle cx="221.26" cy="340.86" r="1.2" fill="#90a040"/>
<circle cx="194.79" cy="340.86" r="1.2" fill="#90a040"/>
<circle cx="210.69" cy="343.36" r="1.2" fill="#90a040"/>
<circle cx="215.52" cy="344.16" r="1.2" fill="#90a040"/>
<circle cx="206.47" cy="346.55" r="1.2" fill="#90a040"/>
<circle cx="218.74" cy="349.34" r="1.2" fill="#90a040"/>
<circle cx="213.71" cy="352.14" r="1.2" fill="#90a040"/>
<circle cx="216.93" cy="354.33" r="1.2" fill="#90a040"/>
<circle cx="226.29" cy="354.53" r="1.2" fill="#90a040"/>
<circle cx="224.28" cy="357.82" r="1.2" fill="#90a040"/>
<circle cx="193.79" cy="355.13" r="1.2" fill="#c08040"/>
<circle cx="197.61" cy="355.33" r="1.2" fill="#90a040"/>
<circle cx="187.55" cy="357.82" r="1.2" fill="#90a040"/>
<circle cx="190.57" cy="359.52" r="1.2" fill="#e04848"/>
<circle cx="208.48" cy="357.12" r="1.2" fill="#50c040"/>
<circle cx="215.93" cy="357.32" r="1.2" fill="#c08040"/>
<circle cx="216.53" cy="360.81" r="1.2" fill="#60c040"/>
<circle cx="208.18" cy="362.31" r="1.2" fill="#e04848"/>
<circle cx="198.62" cy="363.31" r="1.2" fill="#98a048"/>
<circle cx="223.78" cy="361.81" r="1.2" fill="#60c040"/>
<circle cx="221.26" cy="363.31" r="1.2" fill="#e04848"/>
<circle cx="204.66" cy="365.5" r="1.2" fill="#98a048"/>
<circle cx="209.69" cy="365.3" r="1.2" fill="#60c040"/>
<circle cx="215.72" cy="365.1" r="1.2" fill="#60c040"/>
<circle cx="224.78" cy="364.3" r="1.2" fill="#98a048"/>
<circle cx="224.78" cy="366.8" r="1.2" fill="#c07848"/>
<circle cx="187.55" cy="365.5" r="1.2" fill="#e04848"/>
<circle cx="192.38" cy="366.5" r="1.2" fill="#e03838"/>
<circle cx="196.4" cy="367.5" r="1.2" fill="#e03838"/>
<circle cx="203.15" cy="368.09" r="1.2" fill="#50c040"/>
<circle cx="211.9" cy="367.1" r="1.2" fill="#a09040"/>
<circle cx="213.91" cy="368.49" r="1.2" fill="#50c040"/>
<circle cx="217.74" cy="369.79" r="1.2" fill="#c07848"/>
<circle cx="187.05" cy="370.29" r="1.2" fill="#e04848"/>
<circle cx="193.08" cy="369.79" r="1.2" fill="#50c040"/>
<circle cx="198.11" cy="370.29" r="1.2" fill="#a09040"/>
<circle cx="200.63" cy="370.29" r="1.2" fill="#e03838"/>
<circle cx="206.16" cy="370.09" r="1.2" fill="#e03838"/>
<circle cx="209.69" cy="371.49" r="1.2" fill="#50c040"/>
<circle cx="212.71" cy="372.08" r="1.2" fill="#50c040"/>
<circle cx="215.72" cy="373.28" r="1.2" fill="#e04848"/>
<circle cx="220.25" cy="374.28" r="1.2" fill="#98a048"/>
<circle cx="222.27" cy="374.78" r="1.2" fill="#c07848"/>
<circle cx="191.57" cy="373.28" r="1.2" fill="#50c040"/>
<circle cx="195.6" cy="374.28" r="1.2" fill="#e03838"/>
<circle cx="197.11" cy="375.28" r="1.2" fill="#e03838"/>
<circle cx="199.62" cy="374.28" r="1.2" fill="#e03838"/>
<circle cx="202.14" cy="374.28" r="1.2" fill="#e03838"/>
<circle cx="205.66" cy="372.78" r="1.2" fill="#a09040"/>
<circle cx="204.15" cy="375.78" r="1.2" fill="#50c040"/>
<circle cx="211.2" cy="375.28" r="1.2" fill="#50c040"/>
<circle cx="214.72" cy="376.27" r="1.2" fill="#a09040"/>
<circle cx="217.74" cy="377.77" r="1.2" fill="#e04848"/>
<circle cx="208.68" cy="378.27" r="1.2" fill="#50c040"/>
<circle cx="190.06" cy="378.77" r="1.2" fill="#e03838"/>
<circle cx="194.09" cy="378.27" r="1.2" fill="#50c040"/>
<circle cx="197.61" cy="379.27" r="1.2" fill="#a09040"/>
<circle cx="200.63" cy="379.27" r="1.2" fill="#e03838"/>
<circle cx="202.14" cy="380.76" r="1.2" fill="#a09040"/>
<circle cx="205.66" cy="381.46" r="1.2" fill="#e03838"/>
<circle cx="187.05" cy="382.06" r="1.2" fill="#98a048"/>
<circle cx="191.57" cy="381.26" r="1.2" fill="#50c040"/>
<circle cx="195.1" cy="381.76" r="1.2" fill="#e03838"/>
<circle cx="198.62" cy="382.26" r="1.2" fill="#a09040"/>
<circle cx="185.54" cy="384.25" r="1.2" fill="#60c040"/>
<circle cx="188.55" cy="384.25" r="1.2" fill="#e03838"/>
<circle cx="192.58" cy="384.75" r="1.2" fill="#e03838"/>
<circle cx="196.61" cy="384.75" r="1.2" fill="#a09040"/>
<circle cx="200.63" cy="385.75" r="1.2" fill="#e03838"/>
<circle cx="204.66" cy="386.05" r="1.2" fill="#e03838"/>
<circle cx="213.51" cy="386.25" r="1.2" fill="#e03838"/>
<circle cx="187.05" cy="387.25" r="1.2" fill="#c07848"/>
<circle cx="191.07" cy="387.05" r="1.2" fill="#e03838"/>
<circle cx="194.09" cy="387.25" r="1.2" fill="#50c040"/>
<circle cx="198.62" cy="389.24" r="1.2" fill="#98a048"/>
<circle cx="203.65" cy="389.24" r="1.2" fill="#60c040"/>
<circle cx="205.66" cy="388.74" r="1.2" fill="#98a048"/>
<circle cx="186.54" cy="389.74" r="1.2" fill="#e04848"/>
<circle cx="190.57" cy="390.24" r="1.2" fill="#e04848"/>
<circle cx="195.6" cy="390.74" r="1.2" fill="#c07848"/>
<circle cx="214.72" cy="390.24" r="1.2" fill="#98a048"/>
<circle cx="206.67" cy="392.23" r="1.2" fill="#98a048"/>
<circle cx="211.2" cy="392.23" r="1.2" fill="#e04848"/>
<circle cx="215.22" cy="393.23" r="1.2" fill="#60c040"/>
<circle cx="187.55" cy="393.73" r="1.2" fill="#c07848"/>
<circle cx="191.57" cy="393.23" r="1.2" fill="#c07848"/>
<circle cx="196.61" cy="393.23" r="1.2" fill="#98a048"/>
<circle cx="200.13" cy="392.23" r="1.2" fill="#98a048"/>
<circle cx="202.64" cy="394.73" r="1.2" fill="#e04848"/>
<circle cx="197.61" cy="395.72" r="1.2" fill="#98a048"/>
<circle cx="209.18" cy="396.22" r="1.2" fill="#e04848"/>
<circle cx="213.21" cy="395.23" r="1.2" fill="#98a048"/>
<circle cx="226.29" cy="395.72" r="1.2" fill="#98a048"/>
<circle cx="186.54" cy="397.22" r="1.2" fill="#60c040"/>
<circle cx="191.57" cy="396.72" r="1.2" fill="#98a048"/>
<circle cx="203.65" cy="397.72" r="1.2" fill="#60c040"/>
<circle cx="211.7" cy="397.72" r="1.2" fill="#c07848"/>
<circle cx="181.21" cy="389.74" r="1.2" fill="#98a048"/>
<circle cx="183.42" cy="390.44" r="1.2" fill="#60c040"/>
<circle cx="180.91" cy="392.03" r="1.2" fill="#98a048"/>
<circle cx="183.02" cy="392.83" r="1.2" fill="#e04848"/>
<circle cx="180.1" cy="393.53" r="1.2" fill="#e04848"/>
<circle cx="181.81" cy="394.83" r="1.2" fill="#e04848"/>
<circle cx="186.34" cy="388.64" r="1.2" fill="#c07848"/>
<circle cx="184.13" cy="385.85" r="1.2" fill="#98a048"/>
<circle cx="186.04" cy="382.26" r="1.2" fill="#c07848"/>
<circle cx="178.99" cy="389.04" r="1.2" fill="#60c040"/>
</g>
<rect x="20.1" y="287.3" width="223.6" height="118.2" fill="none" stroke="#cccccc" stroke-width="1.4"/>
<rect x="256.9" y="290.6" width="2.9" height="110.9" fill="url(#g_grb)"/>
<text x="261.3" y="403.8" font-size="6">1.0</text>
<text x="261.3" y="381.62" font-size="6">1.2</text>
<text x="261.3" y="359.44" font-size="6">1.4</text>
<text x="261.3" y="337.26" font-size="6">1.6</text>
<text x="261.3" y="315.08" font-size="6">1.8</text>
<text x="261.3" y="292.9" font-size="6">2.0</text>
<text x="20.3" y="410.8" font-size="4.1" fill="#111" font-weight="bold" text-anchor="middle" textLength="9.0" lengthAdjust="spacingAndGlyphs">95°E</text>
<text x="61.71" y="410.8" font-size="4.1" fill="#111" font-weight="bold" text-anchor="middle" textLength="11.2" lengthAdjust="spacingAndGlyphs">100°E</text>
<text x="103.11" y="410.8" font-size="4.1" fill="#111" font-weight="bold" text-anchor="middle" textLength="11.2" lengthAdjust="spacingAndGlyphs">105°E</text>
<text x="144.52" y="410.8" font-size="4.1" fill="#111" font-weight="bold" text-anchor="middle" textLength="11.2" lengthAdjust="spacingAndGlyphs">110°E</text>
<text x="185.93" y="410.8" font-size="4.1" fill="#111" font-weight="bold" text-anchor="middle" textLength="11.2" lengthAdjust="spacingAndGlyphs">115°E</text>
<text x="227.34" y="410.8" font-size="4.1" fill="#111" font-weight="bold" text-anchor="middle" textLength="11.2" lengthAdjust="spacingAndGlyphs">120°E</text>
<text x="18.5" y="293.03" font-size="4.2" fill="#111" font-weight="bold" text-anchor="end" textLength="9.0" lengthAdjust="spacingAndGlyphs">50°N</text>
<text x="18.5" y="334.01" font-size="4.2" fill="#111" font-weight="bold" text-anchor="end" textLength="9.0" lengthAdjust="spacingAndGlyphs">45°N</text>
<text x="18.5" y="375" font-size="4.2" fill="#111" font-weight="bold" text-anchor="end" textLength="9.0" lengthAdjust="spacingAndGlyphs">40°N</text>
<text x="131.9" y="284" font-size="7" text-anchor="middle">Gust Factor  <tspan font-style="italic">b</tspan><tspan font-size="4.6" font-style="italic" dy="1.3">g</tspan></text>
<text x="32" y="303.6" font-size="11.5">e</text>
<g fill="none" stroke-linejoin="round" stroke-linecap="round">
<polyline points="286.9,339.07 287.8,339.27 290.3,340.25 292.3,343.87 294.81,348.28 297.81,351.42 304.82,351.42 316.33,352 326.34,352.4 332.34,352 341.35,353.18 345.35,355.14 351.36,357.1 357.36,358.57 364.37,358.57 365.37,360.04 369.37,360.53 374.38,358.57 381.38,356.12 389.39,353.67 396.4,353.67 402.4,354.16 408.41,352.69 414.41,350.24 419.42,346.32 425.42,343.87 424.42,341.91 422.42,339.46 422.92,335.54 425.42,333.09 430.43,333.09 434.43,334.56 438.44,335.54 443.44,334.56 447.44,332.11 451.45,330.84 455.05,330.06 459.86,327.71 463.46,325.35 468.26,323 472.47,321.24 477.87,320.06 483.88,320.06 489.88,320.65 491.68,318.89 489.88,316.54 486.28,313.6 481.47,310.07 477.87,308.89 474.27,310.07 470.67,311.83 465.86,310.66 460.46,311.25 456.85,310.66 456.05,308.31 458.65,304.19 462.26,299.49 465.26,294.79 469.46,295.37 473.67,296.55 476.67,295.37 481.47,293.02 486.28,291.85 486.88,290.67 485.68,289.3" stroke="#a8a8a8" stroke-width="1.2"/>
<polyline points="509.3,325.26 507,326.04 506.7,327.22 507.5,328 509.3,328.29" stroke="#a8a8a8" stroke-width="1.2"/>
<polyline points="297.81,351.42 296.81,352.69 295.81,358.08 294.31,358.86 286.9,359.55" stroke="#a8a8a8" stroke-width="1.2"/>
<polyline points="304.82,351.42 306.32,354.16 309.32,359.06 308.82,362 311.32,364.94 313.82,368.86 316.33,369.35 320.33,367.39 326.34,366.41 329.34,366.9 329.84,369.35 326.34,372.28 323.83,374.24 326.34,375.22 330.34,377.18 334.34,379.14 337.35,381.59 341.35,383.36 344.35,381.1 346.35,380.12 351.36,379.63 355.36,378.65 360.37,377.67 362.37,379.63 360.87,382.08 357.36,385.51 355.86,388.45 358.36,390.9 363.37,393.84 365.37,393.84 370.38,393.35 374.38,391.88 375.88,389.92 375.88,386.49 376.38,383.55 378.38,380.61 380.38,378.65 382.89,378.16 384.39,379.63 384.39,382.57 382.39,384.53 381.89,386.98 384.39,388.45 387.39,389.43 390.39,390.9 393.4,392.37 396.4,392.86 399.4,391.39 401.4,387.47 403.4,384.53 407.41,381.59 411.41,379.14 415.42,379.14 418.42,378.16 419.42,377.18 423.42,376.2 426.43,374.24 428.43,372.77 431.43,370.81 435.43,370.33 439.44,370.33 442.44,370.81 442.44,367.88 442.44,363.96 442.94,361.02 444.44,359.06 446.44,358.08 449.45,359.06 451.45,360.53 455.45,359.55 459.46,358.08 464.46,357.1 467.46,355.14 471.47,353.18 474.47,352.69 476.47,354.16 477.47,357.1 478.47,360.04 479.97,361.51 483.48,362 485.98,360.04 486.48,356.12 488.48,355.14 490.48,356.12 492.48,359.06 494.49,357.1 497.49,355.14 501.49,353.67 506.5,353.18 509.3,352.98" stroke="#a8a8a8" stroke-width="1.2"/>
<polyline points="442.44,370.81 445.44,370.33 446.94,371.3 445.44,373.75 444.44,376.69 445.44,378.65 444.44,381.59 441.44,383.55 440.44,386.49 439.44,389.43 440.44,395.31 439.44,400.21 442.44,403.15 448.45,404.62 451.45,403.64 454.75,399.42 457.95,396.29 462.46,394.03 465.46,391.88 468.96,389.82 473.27,388.74 476.47,389.23 479.87,389.23 483.08,389.82 483.48,392.86 487.18,396.29 491.88,395.9 494.79,393.06 497.59,390.31 501.49,392.17 505.3,393.55 509.3,394.03" stroke="#a8a8a8" stroke-width="1.2"/>
<polyline points="497.59,390.31 498.59,387.47 499.49,385.51" stroke="#a8a8a8" stroke-width="1.2"/>
<polyline points="455.45,373.75 457.45,370.81 460.46,368.86 463.46,366.41 465.46,366.9 467.46,368.86 470.47,369.84 472.47,371.79 472.47,373.75 474.47,377.67 472.47,380.61" stroke="#a8a8a8" stroke-width="1.2"/>
<polyline points="455.45,373.75 456.45,375.71 460.46,376.69 465.46,376.69 467.46,378.65 466.46,381.59 468.46,384.53 471.47,386.49 474.47,388.45" stroke="#a8a8a8" stroke-width="1.2"/>
<polyline points="478.47,360.04 481.47,362.98 483.48,365.92 486.48,368.86 488.48,371.79 490.48,373.17 494.09,372.09 497.59,369.93 500.49,367.19 503.39,366.11 506.9,366.11 509.3,366.8" stroke="#a8a8a8" stroke-width="1.2"/>
<polyline points="490.48,373.75 488.48,375.71 485.48,378.65 481.47,380.61 477.47,380.61 474.47,380.61" stroke="#a8a8a8" stroke-width="1.2"/>
<polyline points="286.9,379.63 290.3,381.1 296.31,384.53 302.31,386.98 303.82,385.51 303.82,380.61 306.32,380.61 311.32,382.57 314.32,383.06 316.33,381.1 319.33,381.59 324.33,385.51 328.34,386.49 333.34,388.45 338.35,390.9 341.35,391.88 344.35,392.37 347.35,395.31 349.36,397.27 352.36,404.13 352.86,405.4" stroke="#a8a8a8" stroke-width="1.2"/>
<polyline points="365.37,393.84 365.37,395.31 368.37,398.25 370.88,401.19 372.38,405.4" stroke="#a8a8a8" stroke-width="1.2"/>
<polyline points="389.39,390.41 388.39,394.33 386.39,396.29 383.39,396.29 382.39,398.25 380.88,401.19 381.38,403.15 384.39,405.4" stroke="#a8a8a8" stroke-width="1.2"/>
<polyline points="386.39,396.29 391.39,398.25 395.4,400.21 397.4,402.17 399.4,405.4" stroke="#a8a8a8" stroke-width="1.2"/>
<polyline points="418.42,378.16 417.42,382.57 416.42,385.51 414.41,389.43 413.41,394.33 414.41,398.25 413.41,402.17 414.41,405.4" stroke="#a8a8a8" stroke-width="1.2"/>
<polyline points="509.3,372.28 506.2,375.32 503.39,377.18 502.89,378.65 505.3,379.04 508.1,380.02 509.3,380.22" stroke="#555" stroke-width="0.9"/>
<polyline points="501.89,382.96 504.8,381.89 507.6,380.51 509.3,380.12" stroke="#555" stroke-width="0.9"/>
<polyline points="509.3,397.27 505.3,399.62 500.49,401.48 497.59,403.34 494.79,404.71 493.79,405.4" stroke="#555" stroke-width="0.9"/>
</g>
<g>
<circle cx="303.82" cy="359.25" r="1.2" fill="#f06020"/>
<circle cx="336.34" cy="357.88" r="1.2" fill="#e82020"/>
<circle cx="293.31" cy="369.35" r="1.2" fill="#e82020"/>
<circle cx="303.51" cy="371.6" r="1.2" fill="#e82020"/>
<circle cx="324.13" cy="371.3" r="1.2" fill="#e82020"/>
<circle cx="318.83" cy="373.75" r="1.2" fill="#e82020"/>
<circle cx="315.63" cy="375.52" r="1.2" fill="#e82020"/>
<circle cx="326.84" cy="378.65" r="1.2" fill="#e82020"/>
<circle cx="330.34" cy="381.1" r="1.2" fill="#e82020"/>
<circle cx="315.33" cy="383.06" r="1.2" fill="#c01818"/>
<circle cx="325.13" cy="383.06" r="1.2" fill="#c01818"/>
<circle cx="336.84" cy="383.36" r="1.2" fill="#e82020"/>
<circle cx="324.83" cy="386.29" r="1.2" fill="#e08030"/>
<circle cx="334.84" cy="386" r="1.2" fill="#e82020"/>
<circle cx="330.14" cy="388.25" r="1.2" fill="#e82020"/>
<circle cx="290.1" cy="390.9" r="1.2" fill="#f0a030"/>
<circle cx="306.32" cy="394.82" r="1.2" fill="#e82020"/>
<circle cx="320.13" cy="395.5" r="1.2" fill="#e82020"/>
<circle cx="329.14" cy="395.31" r="1.2" fill="#f0f040"/>
<circle cx="340.85" cy="394.82" r="1.2" fill="#e82020"/>
<circle cx="347.55" cy="362.78" r="1.2" fill="#e82020"/>
<circle cx="380.68" cy="362.49" r="1.2" fill="#e82020"/>
<circle cx="385.69" cy="364.15" r="1.2" fill="#e82020"/>
<circle cx="386.19" cy="365.92" r="1.2" fill="#e82020"/>
<circle cx="388.59" cy="368.07" r="1.2" fill="#e82020"/>
<circle cx="367.57" cy="372.58" r="1.2" fill="#e82020"/>
<circle cx="385.39" cy="371.01" r="1.2" fill="#e82020"/>
<circle cx="392.39" cy="373.56" r="1.2" fill="#e82020"/>
<circle cx="375.38" cy="375.52" r="1.2" fill="#e82020"/>
<circle cx="384.19" cy="375.22" r="1.2" fill="#e82020"/>
<circle cx="350.86" cy="378.46" r="1.2" fill="#e82020"/>
<circle cx="341.85" cy="380.12" r="1.2" fill="#c01818"/>
<circle cx="393.4" cy="381.1" r="1.2" fill="#e82020"/>
<circle cx="379.88" cy="380.12" r="1.2" fill="#e82020"/>
<circle cx="383.59" cy="380.12" r="1.2" fill="#e82020"/>
<circle cx="380.88" cy="382.08" r="1.2" fill="#e82020"/>
<circle cx="382.69" cy="383.06" r="1.2" fill="#e82020"/>
<circle cx="374.38" cy="383.06" r="1.2" fill="#f06020"/>
<circle cx="353.36" cy="385.02" r="1.2" fill="#c01818"/>
<circle cx="346.15" cy="385.51" r="1.2" fill="#c01818"/>
<circle cx="379.38" cy="385.71" r="1.2" fill="#e82020"/>
<circle cx="379.38" cy="388.45" r="1.2" fill="#e82020"/>
<circle cx="378.88" cy="389.92" r="1.2" fill="#e82020"/>
<circle cx="343.85" cy="388.25" r="1.2" fill="#e82020"/>
<circle cx="389.39" cy="388.45" r="1.2" fill="#e82020"/>
<circle cx="351.36" cy="390.9" r="1.2" fill="#e82020"/>
<circle cx="387.39" cy="391.39" r="1.2" fill="#e82020"/>
<circle cx="372.38" cy="390.9" r="1.2" fill="#e82020"/>
<circle cx="390.39" cy="393.15" r="1.2" fill="#c01818"/>
<circle cx="351.86" cy="394.13" r="1.2" fill="#e82020"/>
<circle cx="341.85" cy="394.52" r="1.2" fill="#e82020"/>
<circle cx="370.58" cy="393.55" r="1.2" fill="#e82020"/>
<circle cx="374.88" cy="394.13" r="1.2" fill="#e82020"/>
<circle cx="385.39" cy="394.13" r="1.2" fill="#e82020"/>
<circle cx="351.36" cy="396.29" r="1.2" fill="#f06020"/>
<circle cx="361.37" cy="396.48" r="1.2" fill="#f06020"/>
<circle cx="381.38" cy="395.5" r="1.2" fill="#e82020"/>
<circle cx="386.89" cy="396.78" r="1.2" fill="#e82020"/>
<circle cx="411.41" cy="353.18" r="1.2" fill="#e82020"/>
<circle cx="426.23" cy="344.36" r="1.2" fill="#e82020"/>
<circle cx="444.44" cy="336.52" r="1.2" fill="#e82020"/>
<circle cx="450.95" cy="341.42" r="1.2" fill="#e82020"/>
<circle cx="440.14" cy="342.89" r="1.2" fill="#e82020"/>
<circle cx="431.93" cy="351.71" r="1.2" fill="#e82020"/>
<circle cx="434.23" cy="354.65" r="1.2" fill="#e82020"/>
<circle cx="441.94" cy="355.92" r="1.2" fill="#e82020"/>
<circle cx="443.44" cy="358.57" r="1.2" fill="#e82020"/>
<circle cx="447.94" cy="358.86" r="1.2" fill="#e82020"/>
<circle cx="450.95" cy="355.63" r="1.2" fill="#e82020"/>
<circle cx="410.21" cy="359.55" r="1.2" fill="#e82020"/>
<circle cx="414.21" cy="360.23" r="1.2" fill="#c01818"/>
<circle cx="397.9" cy="361.02" r="1.2" fill="#e82020"/>
<circle cx="423.62" cy="361.21" r="1.2" fill="#e82020"/>
<circle cx="420.22" cy="363.17" r="1.2" fill="#e82020"/>
<circle cx="431.43" cy="363.47" r="1.2" fill="#e82020"/>
<circle cx="436.43" cy="362" r="1.2" fill="#e82020"/>
<circle cx="439.44" cy="360.82" r="1.2" fill="#e82020"/>
<circle cx="397.6" cy="364.94" r="1.2" fill="#e82020"/>
<circle cx="403.2" cy="365.43" r="1.2" fill="#e82020"/>
<circle cx="411.21" cy="365.43" r="1.2" fill="#e82020"/>
<circle cx="399.2" cy="367.88" r="1.2" fill="#e82020"/>
<circle cx="421.92" cy="364.94" r="1.2" fill="#e82020"/>
<circle cx="423.22" cy="366.9" r="1.2" fill="#e82020"/>
<circle cx="419.62" cy="367.88" r="1.2" fill="#e82020"/>
<circle cx="435.43" cy="365.43" r="1.2" fill="#e82020"/>
<circle cx="442.94" cy="364.94" r="1.2" fill="#c01818"/>
<circle cx="448.95" cy="364.45" r="1.2" fill="#e82020"/>
<circle cx="430.93" cy="366.9" r="1.2" fill="#f06020"/>
<circle cx="436.93" cy="367.88" r="1.2" fill="#e82020"/>
<circle cx="441.44" cy="367.39" r="1.2" fill="#c01818"/>
<circle cx="446.44" cy="367.88" r="1.2" fill="#e82020"/>
<circle cx="449.95" cy="367.88" r="1.2" fill="#e82020"/>
<circle cx="408.91" cy="369.35" r="1.2" fill="#e82020"/>
<circle cx="410.41" cy="370.62" r="1.2" fill="#e82020"/>
<circle cx="414.71" cy="369.35" r="1.2" fill="#e82020"/>
<circle cx="420.42" cy="371.79" r="1.2" fill="#c01818"/>
<circle cx="425.42" cy="370.81" r="1.2" fill="#c01818"/>
<circle cx="430.43" cy="369.64" r="1.2" fill="#e82020"/>
<circle cx="441.94" cy="370.33" r="1.2" fill="#e82020"/>
<circle cx="444.24" cy="370.62" r="1.2" fill="#e82020"/>
<circle cx="438.44" cy="373.26" r="1.2" fill="#e82020"/>
<circle cx="444.24" cy="373.26" r="1.2" fill="#e82020"/>
<circle cx="399.4" cy="375.52" r="1.2" fill="#e82020"/>
<circle cx="410.41" cy="375.22" r="1.2" fill="#c01818"/>
<circle cx="420.42" cy="374.73" r="1.2" fill="#e82020"/>
<circle cx="430.93" cy="373.75" r="1.2" fill="#e82020"/>
<circle cx="435.93" cy="374.73" r="1.2" fill="#e82020"/>
<circle cx="440.44" cy="376.2" r="1.2" fill="#e82020"/>
<circle cx="445.94" cy="375.52" r="1.2" fill="#c01818"/>
<circle cx="448.45" cy="375.22" r="1.2" fill="#e82020"/>
<circle cx="407.61" cy="377.48" r="1.2" fill="#e82020"/>
<circle cx="422.62" cy="378.46" r="1.2" fill="#e82020"/>
<circle cx="429.23" cy="377.48" r="1.2" fill="#e82020"/>
<circle cx="430.43" cy="378.65" r="1.2" fill="#e82020"/>
<circle cx="433.43" cy="377.48" r="1.2" fill="#e82020"/>
<circle cx="436.43" cy="377.18" r="1.2" fill="#e82020"/>
<circle cx="444.94" cy="378.16" r="1.2" fill="#e82020"/>
<circle cx="448.95" cy="378.65" r="1.2" fill="#e82020"/>
<circle cx="402.4" cy="381.1" r="1.2" fill="#e82020"/>
<circle cx="419.42" cy="381.59" r="1.2" fill="#e82020"/>
<circle cx="425.42" cy="382.08" r="1.2" fill="#e82020"/>
<circle cx="428.93" cy="381.4" r="1.2" fill="#e82020"/>
<circle cx="433.93" cy="381.1" r="1.2" fill="#c01818"/>
<circle cx="437.44" cy="380.42" r="1.2" fill="#e82020"/>
<circle cx="438.44" cy="382.57" r="1.2" fill="#e82020"/>
<circle cx="442.64" cy="381.59" r="1.2" fill="#c01818"/>
<circle cx="400.4" cy="384.53" r="1.2" fill="#c01818"/>
<circle cx="414.21" cy="383.36" r="1.2" fill="#e82020"/>
<circle cx="423.22" cy="384.34" r="1.2" fill="#e82020"/>
<circle cx="419.62" cy="386.29" r="1.2" fill="#e82020"/>
<circle cx="426.43" cy="386.69" r="1.2" fill="#e82020"/>
<circle cx="432.43" cy="384.04" r="1.2" fill="#e82020"/>
<circle cx="434.93" cy="385.71" r="1.2" fill="#e82020"/>
<circle cx="432.43" cy="386.69" r="1.2" fill="#e82020"/>
<circle cx="408.41" cy="387.47" r="1.2" fill="#c01818"/>
<circle cx="423.22" cy="387.47" r="1.2" fill="#e82020"/>
<circle cx="445.44" cy="384.53" r="1.2" fill="#e82020"/>
<circle cx="448.45" cy="384.04" r="1.2" fill="#f06020"/>
<circle cx="403.4" cy="389.92" r="1.2" fill="#e82020"/>
<circle cx="414.41" cy="389.43" r="1.2" fill="#e82020"/>
<circle cx="417.92" cy="389.92" r="1.2" fill="#e82020"/>
<circle cx="420.92" cy="390.9" r="1.2" fill="#e82020"/>
<circle cx="425.22" cy="389.23" r="1.2" fill="#c01818"/>
<circle cx="428.43" cy="390.41" r="1.2" fill="#e82020"/>
<circle cx="431.43" cy="389.43" r="1.2" fill="#c01818"/>
<circle cx="436.43" cy="390.41" r="1.2" fill="#e82020"/>
<circle cx="438.44" cy="388.94" r="1.2" fill="#e82020"/>
<circle cx="445.94" cy="387.47" r="1.2" fill="#f09030"/>
<circle cx="448.45" cy="388.45" r="1.2" fill="#e82020"/>
<circle cx="450.45" cy="387.47" r="1.2" fill="#e82020"/>
<circle cx="447.94" cy="390.9" r="1.2" fill="#e82020"/>
<circle cx="444.44" cy="391.39" r="1.2" fill="#e82020"/>
<circle cx="400.4" cy="392.37" r="1.2" fill="#e82020"/>
<circle cx="411.21" cy="392.37" r="1.2" fill="#e82020"/>
<circle cx="424.42" cy="392.86" r="1.2" fill="#e82020"/>
<circle cx="428.93" cy="392.57" r="1.2" fill="#e82020"/>
<circle cx="431.23" cy="391.88" r="1.2" fill="#e82020"/>
<circle cx="440.44" cy="391.88" r="1.2" fill="#e82020"/>
<circle cx="416.42" cy="394.33" r="1.2" fill="#e82020"/>
<circle cx="419.92" cy="395.11" r="1.2" fill="#e82020"/>
<circle cx="427.43" cy="395.31" r="1.2" fill="#e82020"/>
<circle cx="431.43" cy="394.82" r="1.2" fill="#f06020"/>
<circle cx="435.43" cy="394.33" r="1.2" fill="#c01818"/>
<circle cx="443.44" cy="394.82" r="1.2" fill="#e82020"/>
<circle cx="447.44" cy="393.84" r="1.2" fill="#e82020"/>
<circle cx="407.41" cy="396.29" r="1.2" fill="#e82020"/>
<circle cx="411.41" cy="397.27" r="1.2" fill="#e82020"/>
<circle cx="424.92" cy="396.48" r="1.2" fill="#f09030"/>
<circle cx="428.43" cy="397.07" r="1.2" fill="#c01818"/>
<circle cx="446.44" cy="396.78" r="1.2" fill="#e82020"/>
<circle cx="449.45" cy="395.8" r="1.2" fill="#e82020"/>
<circle cx="434.93" cy="397.27" r="1.2" fill="#e82020"/>
<circle cx="437.44" cy="397.27" r="1.2" fill="#e82020"/>
<circle cx="448.95" cy="397.27" r="1.2" fill="#e82020"/>
<circle cx="426.43" cy="397.46" r="1.2" fill="#e82020"/>
<circle cx="467.46" cy="329.47" r="1.2" fill="#e82020"/>
<circle cx="482.98" cy="327.71" r="1.2" fill="#c01818"/>
<circle cx="489.48" cy="328.88" r="1.2" fill="#e82020"/>
<circle cx="472.97" cy="336.72" r="1.2" fill="#e82020"/>
<circle cx="486.68" cy="337.99" r="1.2" fill="#e82020"/>
<circle cx="486.98" cy="341.91" r="1.2" fill="#e82020"/>
<circle cx="460.66" cy="341.91" r="1.2" fill="#e82020"/>
<circle cx="476.47" cy="344.36" r="1.2" fill="#e82020"/>
<circle cx="481.27" cy="345.15" r="1.2" fill="#e82020"/>
<circle cx="472.27" cy="347.5" r="1.2" fill="#e82020"/>
<circle cx="484.48" cy="350.24" r="1.2" fill="#e82020"/>
<circle cx="479.47" cy="352.98" r="1.2" fill="#e82020"/>
<circle cx="482.68" cy="355.14" r="1.2" fill="#e82020"/>
<circle cx="491.98" cy="355.33" r="1.2" fill="#e82020"/>
<circle cx="489.98" cy="358.57" r="1.2" fill="#e82020"/>
<circle cx="459.66" cy="355.92" r="1.2" fill="#e82020"/>
<circle cx="463.46" cy="356.12" r="1.2" fill="#e82020"/>
<circle cx="453.45" cy="358.57" r="1.2" fill="#e82020"/>
<circle cx="456.45" cy="360.23" r="1.2" fill="#e82020"/>
<circle cx="474.27" cy="357.88" r="1.2" fill="#e82020"/>
<circle cx="481.68" cy="358.08" r="1.2" fill="#e82020"/>
<circle cx="482.28" cy="361.51" r="1.2" fill="#e82020"/>
<circle cx="473.97" cy="362.98" r="1.2" fill="#f06020"/>
<circle cx="464.46" cy="363.96" r="1.2" fill="#e82020"/>
<circle cx="489.48" cy="362.49" r="1.2" fill="#e82020"/>
<circle cx="486.98" cy="363.96" r="1.2" fill="#e82020"/>
<circle cx="470.47" cy="366.11" r="1.2" fill="#e82020"/>
<circle cx="475.47" cy="365.92" r="1.2" fill="#e82020"/>
<circle cx="481.47" cy="365.72" r="1.2" fill="#e82020"/>
<circle cx="490.48" cy="364.94" r="1.2" fill="#e82020"/>
<circle cx="490.48" cy="367.39" r="1.2" fill="#e82020"/>
<circle cx="453.45" cy="366.11" r="1.2" fill="#e82020"/>
<circle cx="458.25" cy="367.09" r="1.2" fill="#e82020"/>
<circle cx="462.26" cy="368.07" r="1.2" fill="#f06020"/>
<circle cx="468.96" cy="368.66" r="1.2" fill="#e82020"/>
<circle cx="477.67" cy="367.68" r="1.2" fill="#e82020"/>
<circle cx="479.67" cy="369.05" r="1.2" fill="#e82020"/>
<circle cx="483.48" cy="370.33" r="1.2" fill="#f06020"/>
<circle cx="452.95" cy="370.81" r="1.2" fill="#e82020"/>
<circle cx="458.95" cy="370.33" r="1.2" fill="#c01818"/>
<circle cx="463.96" cy="370.81" r="1.2" fill="#e82020"/>
<circle cx="466.46" cy="370.81" r="1.2" fill="#e82020"/>
<circle cx="471.97" cy="370.62" r="1.2" fill="#e82020"/>
<circle cx="475.47" cy="371.99" r="1.2" fill="#e82020"/>
<circle cx="478.47" cy="372.58" r="1.2" fill="#c01818"/>
<circle cx="481.47" cy="373.75" r="1.2" fill="#e82020"/>
<circle cx="485.98" cy="374.73" r="1.2" fill="#e82020"/>
<circle cx="487.98" cy="375.22" r="1.2" fill="#e82020"/>
<circle cx="457.45" cy="373.75" r="1.2" fill="#e82020"/>
<circle cx="461.46" cy="374.73" r="1.2" fill="#e82020"/>
<circle cx="462.96" cy="375.71" r="1.2" fill="#e82020"/>
<circle cx="465.46" cy="374.73" r="1.2" fill="#e82020"/>
<circle cx="467.96" cy="374.73" r="1.2" fill="#e82020"/>
<circle cx="471.47" cy="373.26" r="1.2" fill="#c01818"/>
<circle cx="469.96" cy="376.2" r="1.2" fill="#e82020"/>
<circle cx="476.97" cy="375.71" r="1.2" fill="#e82020"/>
<circle cx="480.47" cy="376.69" r="1.2" fill="#e82020"/>
<circle cx="483.48" cy="378.16" r="1.2" fill="#e82020"/>
<circle cx="474.47" cy="378.65" r="1.2" fill="#e82020"/>
<circle cx="455.95" cy="379.14" r="1.2" fill="#e82020"/>
<circle cx="459.96" cy="378.65" r="1.2" fill="#c01818"/>
<circle cx="463.46" cy="379.63" r="1.2" fill="#e82020"/>
<circle cx="466.46" cy="379.63" r="1.2" fill="#e82020"/>
<circle cx="467.96" cy="381.1" r="1.2" fill="#e82020"/>
<circle cx="471.47" cy="381.79" r="1.2" fill="#c01818"/>
<circle cx="452.95" cy="382.38" r="1.2" fill="#e82020"/>
<circle cx="457.45" cy="381.59" r="1.2" fill="#e82020"/>
<circle cx="460.96" cy="382.08" r="1.2" fill="#c01818"/>
<circle cx="464.46" cy="382.57" r="1.2" fill="#e82020"/>
<circle cx="451.45" cy="384.53" r="1.2" fill="#c01818"/>
<circle cx="454.45" cy="384.53" r="1.2" fill="#e82020"/>
<circle cx="458.45" cy="385.02" r="1.2" fill="#e82020"/>
<circle cx="462.46" cy="385.02" r="1.2" fill="#e82020"/>
<circle cx="466.46" cy="386" r="1.2" fill="#e82020"/>
<circle cx="470.47" cy="386.29" r="1.2" fill="#e82020"/>
<circle cx="479.27" cy="386.49" r="1.2" fill="#e82020"/>
<circle cx="452.95" cy="387.47" r="1.2" fill="#e82020"/>
<circle cx="456.95" cy="387.27" r="1.2" fill="#e82020"/>
<circle cx="459.96" cy="387.47" r="1.2" fill="#e82020"/>
<circle cx="464.46" cy="389.43" r="1.2" fill="#e82020"/>
<circle cx="469.46" cy="389.43" r="1.2" fill="#e82020"/>
<circle cx="471.47" cy="388.94" r="1.2" fill="#f06020"/>
<circle cx="452.45" cy="389.92" r="1.2" fill="#e82020"/>
<circle cx="456.45" cy="390.41" r="1.2" fill="#e82020"/>
<circle cx="461.46" cy="390.9" r="1.2" fill="#e82020"/>
<circle cx="480.47" cy="390.41" r="1.2" fill="#e82020"/>
<circle cx="472.47" cy="392.37" r="1.2" fill="#e82020"/>
<circle cx="476.97" cy="392.37" r="1.2" fill="#e82020"/>
<circle cx="480.97" cy="393.35" r="1.2" fill="#e82020"/>
<circle cx="453.45" cy="393.84" r="1.2" fill="#e82020"/>
<circle cx="457.45" cy="393.35" r="1.2" fill="#e82020"/>
<circle cx="462.46" cy="393.35" r="1.2" fill="#e82020"/>
<circle cx="465.96" cy="392.37" r="1.2" fill="#e82020"/>
<circle cx="468.46" cy="394.82" r="1.2" fill="#e82020"/>
<circle cx="463.46" cy="395.8" r="1.2" fill="#e82020"/>
<circle cx="474.97" cy="396.29" r="1.2" fill="#e82020"/>
<circle cx="478.97" cy="395.31" r="1.2" fill="#e82020"/>
<circle cx="491.98" cy="395.8" r="1.2" fill="#e82020"/>
<circle cx="452.45" cy="397.27" r="1.2" fill="#e82020"/>
<circle cx="457.45" cy="396.78" r="1.2" fill="#e82020"/>
<circle cx="469.46" cy="397.76" r="1.2" fill="#c01818"/>
<circle cx="477.47" cy="397.76" r="1.2" fill="#f06020"/>
<circle cx="447.14" cy="389.92" r="1.2" fill="#e82020"/>
<circle cx="449.35" cy="390.61" r="1.2" fill="#e82020"/>
<circle cx="446.84" cy="392.17" r="1.2" fill="#e82020"/>
<circle cx="448.95" cy="392.96" r="1.2" fill="#f06020"/>
<circle cx="446.04" cy="393.64" r="1.2" fill="#e82020"/>
<circle cx="447.74" cy="394.92" r="1.2" fill="#c01818"/>
<circle cx="452.25" cy="388.84" r="1.2" fill="#e82020"/>
<circle cx="450.05" cy="386.1" r="1.2" fill="#e82020"/>
<circle cx="451.95" cy="382.57" r="1.2" fill="#e82020"/>
<circle cx="444.94" cy="389.23" r="1.2" fill="#e82020"/>
</g>
<rect x="286.9" y="289.3" width="222.4" height="116.1" fill="none" stroke="#cccccc" stroke-width="1.4"/>
<rect x="523.4" y="292.5" width="2.6" height="109.2" fill="url(#g_jet)"/>
<text x="527.5" y="404" font-size="6">0.5</text>
<text x="527.5" y="382.16" font-size="6">0.6</text>
<text x="527.5" y="360.32" font-size="6">0.7</text>
<text x="527.5" y="338.48" font-size="6">0.8</text>
<text x="527.5" y="316.64" font-size="6">0.9</text>
<text x="527.5" y="294.8" font-size="6">1.0</text>
<text x="287.1" y="410.7" font-size="4.1" fill="#111" font-weight="bold" text-anchor="middle" textLength="9.0" lengthAdjust="spacingAndGlyphs">95°E</text>
<text x="328.29" y="410.7" font-size="4.1" fill="#111" font-weight="bold" text-anchor="middle" textLength="11.2" lengthAdjust="spacingAndGlyphs">100°E</text>
<text x="369.47" y="410.7" font-size="4.1" fill="#111" font-weight="bold" text-anchor="middle" textLength="11.2" lengthAdjust="spacingAndGlyphs">105°E</text>
<text x="410.66" y="410.7" font-size="4.1" fill="#111" font-weight="bold" text-anchor="middle" textLength="11.2" lengthAdjust="spacingAndGlyphs">110°E</text>
<text x="451.84" y="410.7" font-size="4.1" fill="#111" font-weight="bold" text-anchor="middle" textLength="11.2" lengthAdjust="spacingAndGlyphs">115°E</text>
<text x="493.03" y="410.7" font-size="4.1" fill="#111" font-weight="bold" text-anchor="middle" textLength="11.2" lengthAdjust="spacingAndGlyphs">120°E</text>
<text x="285.3" y="294.95" font-size="4.2" fill="#111" font-weight="bold" text-anchor="end" textLength="9.0" lengthAdjust="spacingAndGlyphs">50°N</text>
<text x="285.3" y="335.2" font-size="4.2" fill="#111" font-weight="bold" text-anchor="end" textLength="9.0" lengthAdjust="spacingAndGlyphs">45°N</text>
<text x="285.3" y="375.46" font-size="4.2" fill="#111" font-weight="bold" text-anchor="end" textLength="9.0" lengthAdjust="spacingAndGlyphs">40°N</text>
<text x="397.8" y="286.8" font-size="7" text-anchor="middle">R between maxwind and meanwind</text>
<text x="300.9" y="305.4" font-size="11.5">f</text>
</svg></body></html>
